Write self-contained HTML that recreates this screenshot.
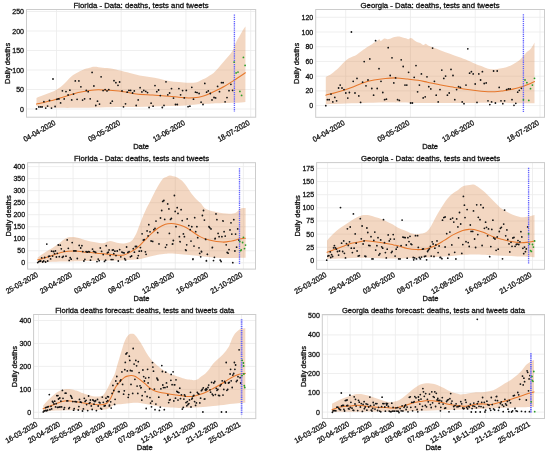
<!DOCTYPE html>
<html><head><meta charset="utf-8"><style>
html,body{margin:0;padding:0;background:#fff;width:550px;height:455px;overflow:hidden}
svg{display:block}
text{font-family:"Liberation Sans", sans-serif;fill:#161616;stroke:#161616;stroke-width:0.3px;font-weight:normal}
</style></head><body>
<svg width="550" height="455" viewBox="0 0 550 455">
<path d="M26.5 109H255.7M26.5 89.5H255.7M26.5 70H255.7M26.5 50.5H255.7M26.5 31H255.7M26.5 11.5H255.7M56.5 9.5V117.2M121.23 9.5V117.2M185.96 9.5V117.2M250.69 9.5V117.2" stroke="#ebebeb" stroke-width="0.8" fill="none"/>
<path d="M36.5 97.9C37.72 97.43 41.48 95.98 43.8 95.1C46.12 94.22 48.22 93.55 50.4 92.6C52.58 91.65 55 90.48 56.9 89.4C58.8 88.32 60.17 87.47 61.8 86.1C63.43 84.73 65.07 82.83 66.7 81.2C68.33 79.57 69.95 77.67 71.6 76.3C73.25 74.93 74.68 74.1 76.6 73C78.52 71.9 80.93 70.57 83.1 69.7C85.27 68.83 87.68 68.28 89.6 67.8C91.52 67.32 92.42 66.8 94.6 66.8C96.78 66.8 99.98 67.53 102.7 67.8C105.42 68.07 108.72 68.13 110.9 68.4C113.08 68.67 114.28 69.05 115.8 69.4C117.32 69.75 117.67 69.9 120 70.5C122.33 71.1 126.53 72.17 129.8 73C133.07 73.83 136.32 74.82 139.6 75.5C142.88 76.18 146.22 76.57 149.5 77.1C152.78 77.63 156.03 78.07 159.3 78.7C162.57 79.33 165.83 80.35 169.1 80.9C172.37 81.45 175.63 81.68 178.9 82C182.17 82.32 185.7 82.77 188.7 82.8C191.7 82.83 194.85 82.63 196.9 82.2C198.95 81.77 199.65 80.8 201 80.2C202.35 79.6 203.62 79.35 205 78.6C206.38 77.85 207.87 76.65 209.3 75.7C210.73 74.75 212.17 74.08 213.6 72.9C215.03 71.72 216.48 70.15 217.9 68.6C219.32 67.05 220.68 65.27 222.1 63.6C223.52 61.93 224.97 60.27 226.4 58.6C227.83 56.93 229.5 55.27 230.7 53.6C231.9 51.93 232.65 50.63 233.6 48.6C234.55 46.57 235.45 43.43 236.4 41.4C237.35 39.37 238.35 38.07 239.3 36.4C240.25 34.73 241.27 32.82 242.1 31.4C242.93 29.98 243.73 28.73 244.3 27.9C244.87 27.07 245.3 26.65 245.5 26.4L245.4 101.9C243.48 102.05 239.3 102.53 233.9 102.8C228.5 103.07 218.35 103.28 213 103.5C207.65 103.72 206.38 103.78 201.8 104.1C197.22 104.42 190.95 105.07 185.5 105.4C180.05 105.73 174.57 105.9 169.1 106.1C163.63 106.3 158.15 106.45 152.7 106.6C147.25 106.75 141.85 106.93 136.4 107C130.95 107.07 129.4 106.87 120 107C110.6 107.13 90.7 107.67 80 107.8C69.3 107.93 61.63 107.88 55.8 107.8C49.97 107.72 48.22 107.57 45 107.3C41.78 107.03 37.92 106.38 36.5 106.2Z" fill="#dd8d51" fill-opacity="0.35"/>
<path d="M36.5 104.1C38.82 103.55 45.37 102.17 50.4 100.8C55.43 99.43 62.07 97.27 66.7 95.9C71.33 94.53 74.65 93.47 78.2 92.6C81.75 91.73 85.27 91.15 88 90.7C90.73 90.25 92.15 90.03 94.6 89.9C97.05 89.77 99.17 89.77 102.7 89.9C106.23 90.03 112.25 90.38 115.8 90.7C119.35 91.02 120.57 91.25 124 91.8C127.43 92.35 131.62 93.45 136.4 94C141.18 94.55 147.25 94.73 152.7 95.1C158.15 95.47 164.73 95.85 169.1 96.2C173.47 96.55 175.63 96.92 178.9 97.2C182.17 97.48 185.42 97.9 188.7 97.9C191.98 97.9 195.88 97.58 198.6 97.2C201.32 96.82 202.58 96.47 205 95.6C207.42 94.73 209.83 93.57 213.1 92C216.37 90.43 221.13 88.13 224.6 86.2C228.07 84.27 230.43 82.63 233.9 80.4C237.37 78.17 243.48 74.07 245.4 72.8" stroke="#e6772b" stroke-width="1.05" fill="none" stroke-linecap="round"/>
<path d="M35.5 108.9a0.9 0.9 0 1 0 1.8 0a0.9 0.9 0 1 0 -1.8 0M37.9 106.9a0.9 0.9 0 1 0 1.8 0a0.9 0.9 0 1 0 -1.8 0M39.7 106.9a0.9 0.9 0 1 0 1.8 0a0.9 0.9 0 1 0 -1.8 0M41.3 106.9a0.9 0.9 0 1 0 1.8 0a0.9 0.9 0 1 0 -1.8 0M43 101.7a0.9 0.9 0 1 0 1.8 0a0.9 0.9 0 1 0 -1.8 0M44.8 108.1a0.9 0.9 0 1 0 1.8 0a0.9 0.9 0 1 0 -1.8 0M46.7 106.1a0.9 0.9 0 1 0 1.8 0a0.9 0.9 0 1 0 -1.8 0M48.6 100.5a0.9 0.9 0 1 0 1.8 0a0.9 0.9 0 1 0 -1.8 0M50.6 108.1a0.9 0.9 0 1 0 1.8 0a0.9 0.9 0 1 0 -1.8 0M52.1 79a0.9 0.9 0 1 0 1.8 0a0.9 0.9 0 1 0 -1.8 0M54.2 106.5a0.9 0.9 0 1 0 1.8 0a0.9 0.9 0 1 0 -1.8 0M56 99.3a0.9 0.9 0 1 0 1.8 0a0.9 0.9 0 1 0 -1.8 0M57.3 98.9a0.9 0.9 0 1 0 1.8 0a0.9 0.9 0 1 0 -1.8 0M58.1 98.9a0.9 0.9 0 1 0 1.8 0a0.9 0.9 0 1 0 -1.8 0M59.7 102.9a0.9 0.9 0 1 0 1.8 0a0.9 0.9 0 1 0 -1.8 0M61.5 90.8a0.9 0.9 0 1 0 1.8 0a0.9 0.9 0 1 0 -1.8 0M63.3 98.9a0.9 0.9 0 1 0 1.8 0a0.9 0.9 0 1 0 -1.8 0M65.1 91.6a0.9 0.9 0 1 0 1.8 0a0.9 0.9 0 1 0 -1.8 0M67.2 95a0.9 0.9 0 1 0 1.8 0a0.9 0.9 0 1 0 -1.8 0M69 90.2a0.9 0.9 0 1 0 1.8 0a0.9 0.9 0 1 0 -1.8 0M70.8 99.9a0.9 0.9 0 1 0 1.8 0a0.9 0.9 0 1 0 -1.8 0M72.6 94.1a0.9 0.9 0 1 0 1.8 0a0.9 0.9 0 1 0 -1.8 0M74.4 80.9a0.9 0.9 0 1 0 1.8 0a0.9 0.9 0 1 0 -1.8 0M76.2 99.3a0.9 0.9 0 1 0 1.8 0a0.9 0.9 0 1 0 -1.8 0M78 80.9a0.9 0.9 0 1 0 1.8 0a0.9 0.9 0 1 0 -1.8 0M80 86.8a0.9 0.9 0 1 0 1.8 0a0.9 0.9 0 1 0 -1.8 0M81.7 100.1a0.9 0.9 0 1 0 1.8 0a0.9 0.9 0 1 0 -1.8 0M83.7 98.8a0.9 0.9 0 1 0 1.8 0a0.9 0.9 0 1 0 -1.8 0M85.4 90.4a0.9 0.9 0 1 0 1.8 0a0.9 0.9 0 1 0 -1.8 0M87.3 91.7a0.9 0.9 0 1 0 1.8 0a0.9 0.9 0 1 0 -1.8 0M89.3 98.8a0.9 0.9 0 1 0 1.8 0a0.9 0.9 0 1 0 -1.8 0M91.2 72.4a0.9 0.9 0 1 0 1.8 0a0.9 0.9 0 1 0 -1.8 0M93 86a0.9 0.9 0 1 0 1.8 0a0.9 0.9 0 1 0 -1.8 0M94.9 105.5a0.9 0.9 0 1 0 1.8 0a0.9 0.9 0 1 0 -1.8 0M96.6 101.2a0.9 0.9 0 1 0 1.8 0a0.9 0.9 0 1 0 -1.8 0M98.6 104.1a0.9 0.9 0 1 0 1.8 0a0.9 0.9 0 1 0 -1.8 0M100.2 76.8a0.9 0.9 0 1 0 1.8 0a0.9 0.9 0 1 0 -1.8 0M102.2 90.6a0.9 0.9 0 1 0 1.8 0a0.9 0.9 0 1 0 -1.8 0M104.2 89.6a0.9 0.9 0 1 0 1.8 0a0.9 0.9 0 1 0 -1.8 0M106.1 90.9a0.9 0.9 0 1 0 1.8 0a0.9 0.9 0 1 0 -1.8 0M107.9 89.6a0.9 0.9 0 1 0 1.8 0a0.9 0.9 0 1 0 -1.8 0M109.7 103.2a0.9 0.9 0 1 0 1.8 0a0.9 0.9 0 1 0 -1.8 0M111.4 101.2a0.9 0.9 0 1 0 1.8 0a0.9 0.9 0 1 0 -1.8 0M113.1 80.7a0.9 0.9 0 1 0 1.8 0a0.9 0.9 0 1 0 -1.8 0M115 82.7a0.9 0.9 0 1 0 1.8 0a0.9 0.9 0 1 0 -1.8 0M117.1 85.3a0.9 0.9 0 1 0 1.8 0a0.9 0.9 0 1 0 -1.8 0M118.7 82a0.9 0.9 0 1 0 1.8 0a0.9 0.9 0 1 0 -1.8 0M121.1 90.9a0.9 0.9 0 1 0 1.8 0a0.9 0.9 0 1 0 -1.8 0M122.6 106.8a0.9 0.9 0 1 0 1.8 0a0.9 0.9 0 1 0 -1.8 0M124.6 103.8a0.9 0.9 0 1 0 1.8 0a0.9 0.9 0 1 0 -1.8 0M126.3 92.2a0.9 0.9 0 1 0 1.8 0a0.9 0.9 0 1 0 -1.8 0M128 90.4a0.9 0.9 0 1 0 1.8 0a0.9 0.9 0 1 0 -1.8 0M129.7 90.4a0.9 0.9 0 1 0 1.8 0a0.9 0.9 0 1 0 -1.8 0M131.7 93a0.9 0.9 0 1 0 1.8 0a0.9 0.9 0 1 0 -1.8 0M133.4 90.9a0.9 0.9 0 1 0 1.8 0a0.9 0.9 0 1 0 -1.8 0M135.3 105.5a0.9 0.9 0 1 0 1.8 0a0.9 0.9 0 1 0 -1.8 0M137.3 99.9a0.9 0.9 0 1 0 1.8 0a0.9 0.9 0 1 0 -1.8 0M139.2 87.7a0.9 0.9 0 1 0 1.8 0a0.9 0.9 0 1 0 -1.8 0M141 91.9a0.9 0.9 0 1 0 1.8 0a0.9 0.9 0 1 0 -1.8 0M142.9 90.4a0.9 0.9 0 1 0 1.8 0a0.9 0.9 0 1 0 -1.8 0M144.9 91.3a0.9 0.9 0 1 0 1.8 0a0.9 0.9 0 1 0 -1.8 0M146.6 92.6a0.9 0.9 0 1 0 1.8 0a0.9 0.9 0 1 0 -1.8 0M148.2 107.5a0.9 0.9 0 1 0 1.8 0a0.9 0.9 0 1 0 -1.8 0M150.2 103.2a0.9 0.9 0 1 0 1.8 0a0.9 0.9 0 1 0 -1.8 0M152.2 106.2a0.9 0.9 0 1 0 1.8 0a0.9 0.9 0 1 0 -1.8 0M154.1 85.6a0.9 0.9 0 1 0 1.8 0a0.9 0.9 0 1 0 -1.8 0M155.9 91.7a0.9 0.9 0 1 0 1.8 0a0.9 0.9 0 1 0 -1.8 0M157.7 90a0.9 0.9 0 1 0 1.8 0a0.9 0.9 0 1 0 -1.8 0M159.4 95.6a0.9 0.9 0 1 0 1.8 0a0.9 0.9 0 1 0 -1.8 0M161.4 107.5a0.9 0.9 0 1 0 1.8 0a0.9 0.9 0 1 0 -1.8 0M163.1 105.4a0.9 0.9 0 1 0 1.8 0a0.9 0.9 0 1 0 -1.8 0M165.1 81.8a0.9 0.9 0 1 0 1.8 0a0.9 0.9 0 1 0 -1.8 0M166.9 94.8a0.9 0.9 0 1 0 1.8 0a0.9 0.9 0 1 0 -1.8 0M168.7 93a0.9 0.9 0 1 0 1.8 0a0.9 0.9 0 1 0 -1.8 0M170.6 88.6a0.9 0.9 0 1 0 1.8 0a0.9 0.9 0 1 0 -1.8 0M172.6 98.1a0.9 0.9 0 1 0 1.8 0a0.9 0.9 0 1 0 -1.8 0M174.6 104.5a0.9 0.9 0 1 0 1.8 0a0.9 0.9 0 1 0 -1.8 0M176.4 104.5a0.9 0.9 0 1 0 1.8 0a0.9 0.9 0 1 0 -1.8 0M178 88.6a0.9 0.9 0 1 0 1.8 0a0.9 0.9 0 1 0 -1.8 0M179.7 94.8a0.9 0.9 0 1 0 1.8 0a0.9 0.9 0 1 0 -1.8 0M181.7 90.6a0.9 0.9 0 1 0 1.8 0a0.9 0.9 0 1 0 -1.8 0M183.4 97.9a0.9 0.9 0 1 0 1.8 0a0.9 0.9 0 1 0 -1.8 0M185.4 90.4a0.9 0.9 0 1 0 1.8 0a0.9 0.9 0 1 0 -1.8 0M187.2 106.7a0.9 0.9 0 1 0 1.8 0a0.9 0.9 0 1 0 -1.8 0M189 106.2a0.9 0.9 0 1 0 1.8 0a0.9 0.9 0 1 0 -1.8 0M190.9 87.3a0.9 0.9 0 1 0 1.8 0a0.9 0.9 0 1 0 -1.8 0M192.6 99.2a0.9 0.9 0 1 0 1.8 0a0.9 0.9 0 1 0 -1.8 0M194.6 92.2a0.9 0.9 0 1 0 1.8 0a0.9 0.9 0 1 0 -1.8 0M196.2 92.6a0.9 0.9 0 1 0 1.8 0a0.9 0.9 0 1 0 -1.8 0M198.2 93.5a0.9 0.9 0 1 0 1.8 0a0.9 0.9 0 1 0 -1.8 0M200.2 102.2a0.9 0.9 0 1 0 1.8 0a0.9 0.9 0 1 0 -1.8 0M202.1 104.5a0.9 0.9 0 1 0 1.8 0a0.9 0.9 0 1 0 -1.8 0M203.9 83.4a0.9 0.9 0 1 0 1.8 0a0.9 0.9 0 1 0 -1.8 0M205.7 92.2a0.9 0.9 0 1 0 1.8 0a0.9 0.9 0 1 0 -1.8 0M207.4 90.9a0.9 0.9 0 1 0 1.8 0a0.9 0.9 0 1 0 -1.8 0M209.4 93.5a0.9 0.9 0 1 0 1.8 0a0.9 0.9 0 1 0 -1.8 0M211.1 99.9a0.9 0.9 0 1 0 1.8 0a0.9 0.9 0 1 0 -1.8 0M213.1 97.5a0.9 0.9 0 1 0 1.8 0a0.9 0.9 0 1 0 -1.8 0M214.7 97.9a0.9 0.9 0 1 0 1.8 0a0.9 0.9 0 1 0 -1.8 0M216.7 86.4a0.9 0.9 0 1 0 1.8 0a0.9 0.9 0 1 0 -1.8 0M218.6 91.7a0.9 0.9 0 1 0 1.8 0a0.9 0.9 0 1 0 -1.8 0M220.6 82.7a0.9 0.9 0 1 0 1.8 0a0.9 0.9 0 1 0 -1.8 0M222.3 82.7a0.9 0.9 0 1 0 1.8 0a0.9 0.9 0 1 0 -1.8 0M224.2 101.8a0.9 0.9 0 1 0 1.8 0a0.9 0.9 0 1 0 -1.8 0M226.1 97.6a0.9 0.9 0 1 0 1.8 0a0.9 0.9 0 1 0 -1.8 0M228.1 90.7a0.9 0.9 0 1 0 1.8 0a0.9 0.9 0 1 0 -1.8 0M230 84.3a0.9 0.9 0 1 0 1.8 0a0.9 0.9 0 1 0 -1.8 0M231.7 90.4a0.9 0.9 0 1 0 1.8 0a0.9 0.9 0 1 0 -1.8 0" fill="#151515"/>
<path d="M234.4 14.5V111.8" stroke="#6262ff" stroke-width="1.35" stroke-dasharray="1.3 0.85" fill="none"/>
<path d="M233.2 62.1a0.9 0.9 0 1 0 1.8 0a0.9 0.9 0 1 0 -1.8 0M235.2 72.9a0.9 0.9 0 1 0 1.8 0a0.9 0.9 0 1 0 -1.8 0M237.1 72.1a0.9 0.9 0 1 0 1.8 0a0.9 0.9 0 1 0 -1.8 0M239 91.4a0.9 0.9 0 1 0 1.8 0a0.9 0.9 0 1 0 -1.8 0M240.7 95.4a0.9 0.9 0 1 0 1.8 0a0.9 0.9 0 1 0 -1.8 0M242.5 57.4a0.9 0.9 0 1 0 1.8 0a0.9 0.9 0 1 0 -1.8 0M244.2 65.4a0.9 0.9 0 1 0 1.8 0a0.9 0.9 0 1 0 -1.8 0" fill="#2a9d2a"/>
<rect x="26.5" y="9.5" width="229.2" height="107.7" fill="none" stroke="#cccccc" stroke-width="1"/>
<path d="M315.7 105.6H544.5M315.7 90.88H544.5M315.7 76.17H544.5M315.7 61.45H544.5M315.7 46.74H544.5M315.7 32.02H544.5M315.7 17.3H544.5M345.7 9.5V117.3M410.47 9.5V117.3M475.24 9.5V117.3M540.01 9.5V117.3" stroke="#ebebeb" stroke-width="0.8" fill="none"/>
<path d="M325.8 77C326.27 76.77 327.58 76.2 328.6 75.6C329.62 75 330.8 74.22 331.9 73.4C333 72.58 334.1 71.62 335.2 70.7C336.3 69.78 337.4 68.92 338.5 67.9C339.6 66.88 340.7 65.7 341.8 64.6C342.9 63.5 344 62.3 345.1 61.3C346.2 60.3 347.3 59.33 348.4 58.6C349.5 57.87 350.6 57.37 351.7 56.9C352.8 56.43 353.9 56.35 355 55.8C356.1 55.25 357.2 54.42 358.3 53.6C359.4 52.78 360.5 51.72 361.6 50.9C362.7 50.08 363.8 49.43 364.9 48.7C366 47.97 367.02 47.23 368.2 46.5C369.38 45.77 371.03 44.95 372 44.3C372.97 43.65 373.25 43.08 374 42.6C374.75 42.12 375.62 41.97 376.5 41.4C377.38 40.83 378.57 39.27 379.3 39.2C380.03 39.13 380.08 41.1 380.9 41C381.72 40.9 383.12 38.9 384.2 38.6C385.28 38.3 386.32 39.2 387.4 39.2C388.48 39.2 389.78 38.88 390.7 38.6C391.62 38.32 391.98 37.8 392.9 37.5C393.82 37.2 395.12 36.97 396.2 36.8C397.28 36.63 398.32 36.38 399.4 36.5C400.48 36.62 401.6 37.2 402.7 37.5C403.8 37.8 405.08 38.02 406 38.3C406.92 38.58 407.38 39.23 408.2 39.2C409.02 39.17 410 38.02 410.9 38.1C411.8 38.18 412.6 39.07 413.6 39.7C414.6 40.33 415.8 41.35 416.9 41.9C418 42.45 419.12 42.48 420.2 43C421.28 43.52 422.5 44.88 423.4 45C424.3 45.12 424.87 43.67 425.6 43.7C426.33 43.73 426.75 44.65 427.8 45.2C428.85 45.75 429.72 46.13 431.9 47C434.08 47.87 437.9 49.28 440.9 50.4C443.9 51.52 446.92 52.58 449.9 53.7C452.88 54.82 455.82 55.98 458.8 57.1C461.78 58.22 465.18 59.35 467.8 60.4C470.42 61.45 472.25 62.45 474.5 63.4C476.75 64.35 479.05 65.22 481.3 66.1C483.55 66.98 485.77 68.15 488 68.7C490.23 69.25 492.7 69.43 494.7 69.4C496.7 69.37 498.07 68.87 500 68.5C501.93 68.13 504.18 67.87 506.3 67.2C508.42 66.53 510.58 65.6 512.7 64.5C514.82 63.4 517.3 61.92 519 60.6C520.7 59.28 521.72 57.92 522.9 56.6C524.08 55.28 524.9 53.88 526.1 52.7C527.3 51.52 529.05 50.57 530.1 49.5C531.15 48.43 531.67 47.48 532.4 46.3C533.13 45.12 534.15 43.05 534.5 42.4L534.5 103.3C531.38 103.3 521.55 103.38 515.8 103.3C510.05 103.22 509.5 102.85 500 102.8C490.5 102.75 473.13 102.97 458.8 103C444.47 103.03 426.25 103.07 414 103C401.75 102.93 393.83 102.6 385.3 102.6C376.77 102.6 370.28 102.82 362.8 103C355.32 103.18 346.57 103.5 340.4 103.7C334.23 103.9 328.23 104.12 325.8 104.2Z" fill="#dd8d51" fill-opacity="0.35"/>
<path d="M325.8 95.2C328.23 94.53 336.1 92.5 340.4 91.2C344.7 89.9 347.87 88.78 351.6 87.4C355.33 86.02 359.05 84.13 362.8 82.9C366.55 81.67 370.35 80.75 374.1 80C377.85 79.25 381.57 78.75 385.3 78.4C389.03 78.05 392.77 77.78 396.5 77.9C400.23 78.02 404.12 78.7 407.7 79.1C411.28 79.5 414.7 79.78 418 80.3C421.3 80.82 423.68 81.4 427.5 82.2C431.32 83 436.42 84.23 440.9 85.1C445.38 85.97 449.92 86.65 454.4 87.4C458.88 88.15 463.32 88.97 467.8 89.6C472.28 90.23 476.82 90.83 481.3 91.2C485.78 91.57 490.97 91.88 494.7 91.8C498.43 91.72 501.23 91.03 503.7 90.7C506.17 90.37 506.95 90.33 509.5 89.8C512.05 89.27 516.63 88.1 519 87.5C521.37 86.9 522.12 86.73 523.7 86.2C525.28 85.67 526.7 85.08 528.5 84.3C530.3 83.52 533.5 81.97 534.5 81.5" stroke="#e6772b" stroke-width="1.05" fill="none" stroke-linecap="round"/>
<path d="M324.9 105.7a0.9 0.9 0 1 0 1.8 0a0.9 0.9 0 1 0 -1.8 0M326.5 99.7a0.9 0.9 0 1 0 1.8 0a0.9 0.9 0 1 0 -1.8 0M328.3 99.7a0.9 0.9 0 1 0 1.8 0a0.9 0.9 0 1 0 -1.8 0M330.1 94.1a0.9 0.9 0 1 0 1.8 0a0.9 0.9 0 1 0 -1.8 0M331.9 101.9a0.9 0.9 0 1 0 1.8 0a0.9 0.9 0 1 0 -1.8 0M333.9 97.4a0.9 0.9 0 1 0 1.8 0a0.9 0.9 0 1 0 -1.8 0M335.7 100.8a0.9 0.9 0 1 0 1.8 0a0.9 0.9 0 1 0 -1.8 0M337.7 88a0.9 0.9 0 1 0 1.8 0a0.9 0.9 0 1 0 -1.8 0M339.3 85.1a0.9 0.9 0 1 0 1.8 0a0.9 0.9 0 1 0 -1.8 0M341.1 88a0.9 0.9 0 1 0 1.8 0a0.9 0.9 0 1 0 -1.8 0M343.1 89.6a0.9 0.9 0 1 0 1.8 0a0.9 0.9 0 1 0 -1.8 0M344.9 93a0.9 0.9 0 1 0 1.8 0a0.9 0.9 0 1 0 -1.8 0M346.9 98.1a0.9 0.9 0 1 0 1.8 0a0.9 0.9 0 1 0 -1.8 0M348.5 92.5a0.9 0.9 0 1 0 1.8 0a0.9 0.9 0 1 0 -1.8 0M350.5 32a0.9 0.9 0 1 0 1.8 0a0.9 0.9 0 1 0 -1.8 0M352.3 81.3a0.9 0.9 0 1 0 1.8 0a0.9 0.9 0 1 0 -1.8 0M354.1 93a0.9 0.9 0 1 0 1.8 0a0.9 0.9 0 1 0 -1.8 0M356.1 78.4a0.9 0.9 0 1 0 1.8 0a0.9 0.9 0 1 0 -1.8 0M357.9 95.9a0.9 0.9 0 1 0 1.8 0a0.9 0.9 0 1 0 -1.8 0M359.7 102.4a0.9 0.9 0 1 0 1.8 0a0.9 0.9 0 1 0 -1.8 0M361.7 82.2a0.9 0.9 0 1 0 1.8 0a0.9 0.9 0 1 0 -1.8 0M363.3 61.6a0.9 0.9 0 1 0 1.8 0a0.9 0.9 0 1 0 -1.8 0M365.1 85.8a0.9 0.9 0 1 0 1.8 0a0.9 0.9 0 1 0 -1.8 0M367.1 80a0.9 0.9 0 1 0 1.8 0a0.9 0.9 0 1 0 -1.8 0M368.9 58.9a0.9 0.9 0 1 0 1.8 0a0.9 0.9 0 1 0 -1.8 0M370.9 88.5a0.9 0.9 0 1 0 1.8 0a0.9 0.9 0 1 0 -1.8 0M372.7 95.2a0.9 0.9 0 1 0 1.8 0a0.9 0.9 0 1 0 -1.8 0M374.7 40.7a0.9 0.9 0 1 0 1.8 0a0.9 0.9 0 1 0 -1.8 0M376.3 88.5a0.9 0.9 0 1 0 1.8 0a0.9 0.9 0 1 0 -1.8 0M378.1 68.7a0.9 0.9 0 1 0 1.8 0a0.9 0.9 0 1 0 -1.8 0M380.1 81.3a0.9 0.9 0 1 0 1.8 0a0.9 0.9 0 1 0 -1.8 0M381.9 92.5a0.9 0.9 0 1 0 1.8 0a0.9 0.9 0 1 0 -1.8 0M383.7 99.7a0.9 0.9 0 1 0 1.8 0a0.9 0.9 0 1 0 -1.8 0M385.5 99.2a0.9 0.9 0 1 0 1.8 0a0.9 0.9 0 1 0 -1.8 0M387.3 47.7a0.9 0.9 0 1 0 1.8 0a0.9 0.9 0 1 0 -1.8 0M389.3 75.5a0.9 0.9 0 1 0 1.8 0a0.9 0.9 0 1 0 -1.8 0M391.1 57.8a0.9 0.9 0 1 0 1.8 0a0.9 0.9 0 1 0 -1.8 0M392.9 82.9a0.9 0.9 0 1 0 1.8 0a0.9 0.9 0 1 0 -1.8 0M394.7 77.9a0.9 0.9 0 1 0 1.8 0a0.9 0.9 0 1 0 -1.8 0M396.7 99.7a0.9 0.9 0 1 0 1.8 0a0.9 0.9 0 1 0 -1.8 0M398.5 100.4a0.9 0.9 0 1 0 1.8 0a0.9 0.9 0 1 0 -1.8 0M400.3 59.8a0.9 0.9 0 1 0 1.8 0a0.9 0.9 0 1 0 -1.8 0M402.3 66.5a0.9 0.9 0 1 0 1.8 0a0.9 0.9 0 1 0 -1.8 0M404.1 85.1a0.9 0.9 0 1 0 1.8 0a0.9 0.9 0 1 0 -1.8 0M405.9 85.1a0.9 0.9 0 1 0 1.8 0a0.9 0.9 0 1 0 -1.8 0M407.7 72.3a0.9 0.9 0 1 0 1.8 0a0.9 0.9 0 1 0 -1.8 0M409.7 103a0.9 0.9 0 1 0 1.8 0a0.9 0.9 0 1 0 -1.8 0M411.5 103a0.9 0.9 0 1 0 1.8 0a0.9 0.9 0 1 0 -1.8 0M413.3 77.3a0.9 0.9 0 1 0 1.8 0a0.9 0.9 0 1 0 -1.8 0M415.1 65.6a0.9 0.9 0 1 0 1.8 0a0.9 0.9 0 1 0 -1.8 0M416.7 91.8a0.9 0.9 0 1 0 1.8 0a0.9 0.9 0 1 0 -1.8 0M418.5 85.1a0.9 0.9 0 1 0 1.8 0a0.9 0.9 0 1 0 -1.8 0M420.5 73.9a0.9 0.9 0 1 0 1.8 0a0.9 0.9 0 1 0 -1.8 0M422.3 97.9a0.9 0.9 0 1 0 1.8 0a0.9 0.9 0 1 0 -1.8 0M424.3 96.8a0.9 0.9 0 1 0 1.8 0a0.9 0.9 0 1 0 -1.8 0M426.1 76.8a0.9 0.9 0 1 0 1.8 0a0.9 0.9 0 1 0 -1.8 0M427.9 86.7a0.9 0.9 0 1 0 1.8 0a0.9 0.9 0 1 0 -1.8 0M429.9 88.9a0.9 0.9 0 1 0 1.8 0a0.9 0.9 0 1 0 -1.8 0M431.7 48.1a0.9 0.9 0 1 0 1.8 0a0.9 0.9 0 1 0 -1.8 0M433.5 81.3a0.9 0.9 0 1 0 1.8 0a0.9 0.9 0 1 0 -1.8 0M435.3 95.2a0.9 0.9 0 1 0 1.8 0a0.9 0.9 0 1 0 -1.8 0M437.3 101.9a0.9 0.9 0 1 0 1.8 0a0.9 0.9 0 1 0 -1.8 0M439.1 89.6a0.9 0.9 0 1 0 1.8 0a0.9 0.9 0 1 0 -1.8 0M440.9 70.1a0.9 0.9 0 1 0 1.8 0a0.9 0.9 0 1 0 -1.8 0M442.9 78.4a0.9 0.9 0 1 0 1.8 0a0.9 0.9 0 1 0 -1.8 0M444.7 76.1a0.9 0.9 0 1 0 1.8 0a0.9 0.9 0 1 0 -1.8 0M446.5 95.2a0.9 0.9 0 1 0 1.8 0a0.9 0.9 0 1 0 -1.8 0M448.3 93a0.9 0.9 0 1 0 1.8 0a0.9 0.9 0 1 0 -1.8 0M450.1 69.4a0.9 0.9 0 1 0 1.8 0a0.9 0.9 0 1 0 -1.8 0M452.1 75.5a0.9 0.9 0 1 0 1.8 0a0.9 0.9 0 1 0 -1.8 0M453.9 99.7a0.9 0.9 0 1 0 1.8 0a0.9 0.9 0 1 0 -1.8 0M455.7 89.6a0.9 0.9 0 1 0 1.8 0a0.9 0.9 0 1 0 -1.8 0M457.7 86.7a0.9 0.9 0 1 0 1.8 0a0.9 0.9 0 1 0 -1.8 0M459.5 87.4a0.9 0.9 0 1 0 1.8 0a0.9 0.9 0 1 0 -1.8 0M461.3 101.9a0.9 0.9 0 1 0 1.8 0a0.9 0.9 0 1 0 -1.8 0M463.1 103.7a0.9 0.9 0 1 0 1.8 0a0.9 0.9 0 1 0 -1.8 0M465.1 85.1a0.9 0.9 0 1 0 1.8 0a0.9 0.9 0 1 0 -1.8 0M466.9 48.8a0.9 0.9 0 1 0 1.8 0a0.9 0.9 0 1 0 -1.8 0M468.7 73.2a0.9 0.9 0 1 0 1.8 0a0.9 0.9 0 1 0 -1.8 0M470.5 71.7a0.9 0.9 0 1 0 1.8 0a0.9 0.9 0 1 0 -1.8 0M472.3 73.9a0.9 0.9 0 1 0 1.8 0a0.9 0.9 0 1 0 -1.8 0M474.3 84a0.9 0.9 0 1 0 1.8 0a0.9 0.9 0 1 0 -1.8 0M476.1 102.4a0.9 0.9 0 1 0 1.8 0a0.9 0.9 0 1 0 -1.8 0M477.9 73.9a0.9 0.9 0 1 0 1.8 0a0.9 0.9 0 1 0 -1.8 0M479.7 80a0.9 0.9 0 1 0 1.8 0a0.9 0.9 0 1 0 -1.8 0M481.5 71.7a0.9 0.9 0 1 0 1.8 0a0.9 0.9 0 1 0 -1.8 0M483.3 83.5a0.9 0.9 0 1 0 1.8 0a0.9 0.9 0 1 0 -1.8 0M485.3 82.9a0.9 0.9 0 1 0 1.8 0a0.9 0.9 0 1 0 -1.8 0M487.1 100.8a0.9 0.9 0 1 0 1.8 0a0.9 0.9 0 1 0 -1.8 0M488.9 104.6a0.9 0.9 0 1 0 1.8 0a0.9 0.9 0 1 0 -1.8 0M490.7 101.9a0.9 0.9 0 1 0 1.8 0a0.9 0.9 0 1 0 -1.8 0M492.7 71a0.9 0.9 0 1 0 1.8 0a0.9 0.9 0 1 0 -1.8 0M494.5 103a0.9 0.9 0 1 0 1.8 0a0.9 0.9 0 1 0 -1.8 0M496.3 71a0.9 0.9 0 1 0 1.8 0a0.9 0.9 0 1 0 -1.8 0M498.3 87.4a0.9 0.9 0 1 0 1.8 0a0.9 0.9 0 1 0 -1.8 0M500.1 100.8a0.9 0.9 0 1 0 1.8 0a0.9 0.9 0 1 0 -1.8 0M501.9 103.7a0.9 0.9 0 1 0 1.8 0a0.9 0.9 0 1 0 -1.8 0M503.7 100.8a0.9 0.9 0 1 0 1.8 0a0.9 0.9 0 1 0 -1.8 0M505.7 89.6a0.9 0.9 0 1 0 1.8 0a0.9 0.9 0 1 0 -1.8 0M507.5 88.9a0.9 0.9 0 1 0 1.8 0a0.9 0.9 0 1 0 -1.8 0M509.3 88.9a0.9 0.9 0 1 0 1.8 0a0.9 0.9 0 1 0 -1.8 0M511.1 99.7a0.9 0.9 0 1 0 1.8 0a0.9 0.9 0 1 0 -1.8 0M513.1 105.3a0.9 0.9 0 1 0 1.8 0a0.9 0.9 0 1 0 -1.8 0M514.9 103.3a0.9 0.9 0 1 0 1.8 0a0.9 0.9 0 1 0 -1.8 0M516.8 92.2a0.9 0.9 0 1 0 1.8 0a0.9 0.9 0 1 0 -1.8 0M518.4 90.3a0.9 0.9 0 1 0 1.8 0a0.9 0.9 0 1 0 -1.8 0M520.5 88.3a0.9 0.9 0 1 0 1.8 0a0.9 0.9 0 1 0 -1.8 0" fill="#151515"/>
<path d="M523.4 14.3V112.1" stroke="#6262ff" stroke-width="1.35" stroke-dasharray="1.3 0.85" fill="none"/>
<path d="M522.5 99.8a0.9 0.9 0 1 0 1.8 0a0.9 0.9 0 1 0 -1.8 0M524.1 79.9a0.9 0.9 0 1 0 1.8 0a0.9 0.9 0 1 0 -1.8 0M526 82.7a0.9 0.9 0 1 0 1.8 0a0.9 0.9 0 1 0 -1.8 0M527.9 100.4a0.9 0.9 0 1 0 1.8 0a0.9 0.9 0 1 0 -1.8 0M529.6 88.7a0.9 0.9 0 1 0 1.8 0a0.9 0.9 0 1 0 -1.8 0M531.5 85.1a0.9 0.9 0 1 0 1.8 0a0.9 0.9 0 1 0 -1.8 0M533.6 78.3a0.9 0.9 0 1 0 1.8 0a0.9 0.9 0 1 0 -1.8 0" fill="#2a9d2a"/>
<rect x="315.7" y="9.5" width="228.8" height="107.8" fill="none" stroke="#cccccc" stroke-width="1"/>
<path d="M27.6 262.8H255.5M27.6 250.78H255.5M27.6 238.75H255.5M27.6 226.73H255.5M27.6 214.7H255.5M27.6 202.68H255.5M27.6 190.65H255.5M27.6 178.62H255.5M27.6 166.6H255.5M39 162.7V269.1M73.07 162.7V269.1M107.14 162.7V269.1M141.21 162.7V269.1M175.28 162.7V269.1M209.35 162.7V269.1M243.42 162.7V269.1" stroke="#ebebeb" stroke-width="0.8" fill="none"/>
<path d="M37.7 257.5C38.58 256.88 41.12 255.03 43 253.8C44.88 252.57 47.02 251.35 49 250.1C50.98 248.85 52.92 247.67 54.9 246.3C56.88 244.93 59.15 243.18 60.9 241.9C62.65 240.62 63.9 239.4 65.4 238.6C66.9 237.8 68.4 237.35 69.9 237.1C71.4 236.85 72.92 236.93 74.4 237.1C75.88 237.27 77.07 237.6 78.8 238.1C80.53 238.6 82.8 239.52 84.8 240.1C86.8 240.68 88.8 241.18 90.8 241.6C92.8 242.02 94.8 242.32 96.8 242.6C98.8 242.88 100.6 243.58 102.8 243.3C105 243.02 107.65 241 110 240.9C112.35 240.8 114.58 242.28 116.9 242.7C119.22 243.12 121.58 243.6 123.9 243.4C126.22 243.2 129.05 242.57 130.8 241.5C132.55 240.43 133.45 238.42 134.4 237C135.35 235.58 135.77 234.68 136.5 233C137.23 231.32 138 228.98 138.8 226.9C139.6 224.82 140.48 222.55 141.3 220.5C142.12 218.45 142.83 216.65 143.7 214.6C144.57 212.55 145.52 210.2 146.5 208.2C147.48 206.2 148.6 204.55 149.6 202.6C150.6 200.65 151.52 198.52 152.5 196.5C153.48 194.48 154.58 192.25 155.5 190.5C156.42 188.75 157.17 187.42 158 186C158.83 184.58 159.65 183.27 160.5 182C161.35 180.73 162.12 179.23 163.1 178.4C164.08 177.57 165.3 177.48 166.4 177C167.5 176.52 168.6 175.63 169.7 175.5C170.8 175.37 171.9 175.95 173 176.2C174.1 176.45 175.3 176.57 176.3 177C177.3 177.43 178.08 178.2 179 178.8C179.92 179.4 180.78 179.68 181.8 180.6C182.82 181.52 184 182.92 185.1 184.3C186.2 185.68 187.32 187.32 188.4 188.9C189.48 190.48 190.52 192.33 191.6 193.8C192.68 195.27 193.8 196.5 194.9 197.7C196 198.9 197.18 200.03 198.2 201C199.22 201.97 199.95 202.33 201 203.5C202.05 204.67 203.15 206.87 204.5 208C205.85 209.13 207.18 209.63 209.1 210.3C211.02 210.97 213.68 211.5 216 212C218.32 212.5 220.68 213 223 213.3C225.32 213.6 227.78 213.9 229.9 213.8C232.02 213.7 233.97 213.55 235.7 212.7C237.43 211.85 238.65 209.48 240.3 208.7C241.95 207.92 244.72 208.12 245.6 208L245.6 257.8C243 257.83 235.33 258.07 230 258C224.67 257.93 218.15 257.67 213.6 257.4C209.05 257.13 206.33 256.75 202.7 256.4C199.07 256.05 195.43 255.67 191.8 255.3C188.17 254.93 184.53 254.48 180.9 254.2C177.27 253.92 172.88 253.62 170 253.6C167.12 253.58 166.18 253.8 163.6 254.1C161.02 254.4 157.52 254.8 154.5 255.4C151.48 256 148.52 257.02 145.5 257.7C142.48 258.38 140.95 259.03 136.4 259.5C131.85 259.97 124.27 260.33 118.2 260.5C112.13 260.67 106.57 260.37 100 260.5C93.43 260.63 84.82 261.12 78.8 261.3C72.78 261.48 68.87 261.48 63.9 261.6C58.93 261.72 53.37 261.8 49 262C44.63 262.2 39.58 262.67 37.7 262.8Z" fill="#dd8d51" fill-opacity="0.35"/>
<path d="M37.7 259.8C39.08 259.42 43.38 258.3 46 257.5C48.62 256.7 50.92 255.82 53.4 255C55.88 254.18 58.4 253.22 60.9 252.6C63.4 251.98 65.9 251.55 68.4 251.3C70.9 251.05 73.42 250.98 75.9 251.1C78.38 251.22 80.82 251.75 83.3 252C85.78 252.25 88.3 252.37 90.8 252.6C93.3 252.83 95.82 253.15 98.3 253.4C100.78 253.65 103.75 253.97 105.7 254.1C107.65 254.23 108.13 254.02 110 254.2C111.87 254.38 114.58 255.08 116.9 255.2C119.22 255.32 121.58 255.45 123.9 254.9C126.22 254.35 128.5 253.17 130.8 251.9C133.1 250.63 135.4 249.22 137.7 247.3C140 245.38 142.28 242.72 144.6 240.4C146.92 238.08 149.28 235.52 151.6 233.4C153.92 231.28 156.2 229.23 158.5 227.7C160.8 226.17 163.28 224.9 165.4 224.2C167.52 223.5 169.27 223.5 171.2 223.5C173.13 223.5 174.88 223.7 177 224.2C179.12 224.7 181.72 225.53 183.9 226.5C186.08 227.47 187.42 228.32 190.1 230C192.78 231.68 196.83 234.93 200 236.6C203.17 238.27 205.32 239.08 209.1 240C212.88 240.92 218.92 241.95 222.7 242.1C226.48 242.25 229.07 241.4 231.8 240.9C234.53 240.4 236.82 239.55 239.1 239.1C241.38 238.65 244.43 238.35 245.5 238.2" stroke="#e6772b" stroke-width="1.05" fill="none" stroke-linecap="round"/>
<path d="M36.8 262.6a0.9 0.9 0 1 0 1.8 0a0.9 0.9 0 1 0 -1.8 0M37.9 261.6a0.9 0.9 0 1 0 1.8 0a0.9 0.9 0 1 0 -1.8 0M38.9 261.2a0.9 0.9 0 1 0 1.8 0a0.9 0.9 0 1 0 -1.8 0M39.8 261a0.9 0.9 0 1 0 1.8 0a0.9 0.9 0 1 0 -1.8 0M40.8 257.8a0.9 0.9 0 1 0 1.8 0a0.9 0.9 0 1 0 -1.8 0M41.8 262a0.9 0.9 0 1 0 1.8 0a0.9 0.9 0 1 0 -1.8 0M42.8 261a0.9 0.9 0 1 0 1.8 0a0.9 0.9 0 1 0 -1.8 0M43.8 257.5a0.9 0.9 0 1 0 1.8 0a0.9 0.9 0 1 0 -1.8 0M44.7 262a0.9 0.9 0 1 0 1.8 0a0.9 0.9 0 1 0 -1.8 0M45.9 244.1a0.9 0.9 0 1 0 1.8 0a0.9 0.9 0 1 0 -1.8 0M46.8 261a0.9 0.9 0 1 0 1.8 0a0.9 0.9 0 1 0 -1.8 0M47.7 256.5a0.9 0.9 0 1 0 1.8 0a0.9 0.9 0 1 0 -1.8 0M48.7 256.2a0.9 0.9 0 1 0 1.8 0a0.9 0.9 0 1 0 -1.8 0M49.7 258.9a0.9 0.9 0 1 0 1.8 0a0.9 0.9 0 1 0 -1.8 0M50.7 251.2a0.9 0.9 0 1 0 1.8 0a0.9 0.9 0 1 0 -1.8 0M51.7 256.1a0.9 0.9 0 1 0 1.8 0a0.9 0.9 0 1 0 -1.8 0M52.6 251.5a0.9 0.9 0 1 0 1.8 0a0.9 0.9 0 1 0 -1.8 0M53.7 253.7a0.9 0.9 0 1 0 1.8 0a0.9 0.9 0 1 0 -1.8 0M54.5 250.9a0.9 0.9 0 1 0 1.8 0a0.9 0.9 0 1 0 -1.8 0M55.5 257a0.9 0.9 0 1 0 1.8 0a0.9 0.9 0 1 0 -1.8 0M56.4 253.3a0.9 0.9 0 1 0 1.8 0a0.9 0.9 0 1 0 -1.8 0M57.4 245a0.9 0.9 0 1 0 1.8 0a0.9 0.9 0 1 0 -1.8 0M58.4 256.7a0.9 0.9 0 1 0 1.8 0a0.9 0.9 0 1 0 -1.8 0M59.4 245.2a0.9 0.9 0 1 0 1.8 0a0.9 0.9 0 1 0 -1.8 0M60.4 248.8a0.9 0.9 0 1 0 1.8 0a0.9 0.9 0 1 0 -1.8 0M61.4 257.3a0.9 0.9 0 1 0 1.8 0a0.9 0.9 0 1 0 -1.8 0M62.4 256.5a0.9 0.9 0 1 0 1.8 0a0.9 0.9 0 1 0 -1.8 0M63.4 251.2a0.9 0.9 0 1 0 1.8 0a0.9 0.9 0 1 0 -1.8 0M65.1 256.2a0.9 0.9 0 1 0 1.8 0a0.9 0.9 0 1 0 -1.8 0M66.3 239.9a0.9 0.9 0 1 0 1.8 0a0.9 0.9 0 1 0 -1.8 0M67.4 248.3a0.9 0.9 0 1 0 1.8 0a0.9 0.9 0 1 0 -1.8 0M68.3 260.4a0.9 0.9 0 1 0 1.8 0a0.9 0.9 0 1 0 -1.8 0M69.3 257.7a0.9 0.9 0 1 0 1.8 0a0.9 0.9 0 1 0 -1.8 0M70.3 259.2a0.9 0.9 0 1 0 1.8 0a0.9 0.9 0 1 0 -1.8 0M71.3 242.6a0.9 0.9 0 1 0 1.8 0a0.9 0.9 0 1 0 -1.8 0M72.9 250.9a0.9 0.9 0 1 0 1.8 0a0.9 0.9 0 1 0 -1.8 0M74 250.9a0.9 0.9 0 1 0 1.8 0a0.9 0.9 0 1 0 -1.8 0M75 250.9a0.9 0.9 0 1 0 1.8 0a0.9 0.9 0 1 0 -1.8 0M76.4 258.5a0.9 0.9 0 1 0 1.8 0a0.9 0.9 0 1 0 -1.8 0M78.3 245.4a0.9 0.9 0 1 0 1.8 0a0.9 0.9 0 1 0 -1.8 0M79.8 248a0.9 0.9 0 1 0 1.8 0a0.9 0.9 0 1 0 -1.8 0M81 245.7a0.9 0.9 0 1 0 1.8 0a0.9 0.9 0 1 0 -1.8 0M81.9 251.6a0.9 0.9 0 1 0 1.8 0a0.9 0.9 0 1 0 -1.8 0M83 261a0.9 0.9 0 1 0 1.8 0a0.9 0.9 0 1 0 -1.8 0M84 259.3a0.9 0.9 0 1 0 1.8 0a0.9 0.9 0 1 0 -1.8 0M85.2 251.6a0.9 0.9 0 1 0 1.8 0a0.9 0.9 0 1 0 -1.8 0M86.3 252.2a0.9 0.9 0 1 0 1.8 0a0.9 0.9 0 1 0 -1.8 0M87.5 251.6a0.9 0.9 0 1 0 1.8 0a0.9 0.9 0 1 0 -1.8 0M88.6 251.8a0.9 0.9 0 1 0 1.8 0a0.9 0.9 0 1 0 -1.8 0M89.6 260.2a0.9 0.9 0 1 0 1.8 0a0.9 0.9 0 1 0 -1.8 0M90.6 256.8a0.9 0.9 0 1 0 1.8 0a0.9 0.9 0 1 0 -1.8 0M91.6 249.1a0.9 0.9 0 1 0 1.8 0a0.9 0.9 0 1 0 -1.8 0M92.7 251.4a0.9 0.9 0 1 0 1.8 0a0.9 0.9 0 1 0 -1.8 0M93.8 251.8a0.9 0.9 0 1 0 1.8 0a0.9 0.9 0 1 0 -1.8 0M94.8 252.4a0.9 0.9 0 1 0 1.8 0a0.9 0.9 0 1 0 -1.8 0M96.1 261.6a0.9 0.9 0 1 0 1.8 0a0.9 0.9 0 1 0 -1.8 0M97.3 259.1a0.9 0.9 0 1 0 1.8 0a0.9 0.9 0 1 0 -1.8 0M98.3 260.7a0.9 0.9 0 1 0 1.8 0a0.9 0.9 0 1 0 -1.8 0M99.4 248a0.9 0.9 0 1 0 1.8 0a0.9 0.9 0 1 0 -1.8 0M100.7 251.4a0.9 0.9 0 1 0 1.8 0a0.9 0.9 0 1 0 -1.8 0M102.3 254.6a0.9 0.9 0 1 0 1.8 0a0.9 0.9 0 1 0 -1.8 0M103.6 261.4a0.9 0.9 0 1 0 1.8 0a0.9 0.9 0 1 0 -1.8 0M104.7 260.2a0.9 0.9 0 1 0 1.8 0a0.9 0.9 0 1 0 -1.8 0M105.3 245.7a0.9 0.9 0 1 0 1.8 0a0.9 0.9 0 1 0 -1.8 0M106.5 252.9a0.9 0.9 0 1 0 1.8 0a0.9 0.9 0 1 0 -1.8 0M107.4 252.2a0.9 0.9 0 1 0 1.8 0a0.9 0.9 0 1 0 -1.8 0M108.2 249.9a0.9 0.9 0 1 0 1.8 0a0.9 0.9 0 1 0 -1.8 0M109.2 255.6a0.9 0.9 0 1 0 1.8 0a0.9 0.9 0 1 0 -1.8 0M110.3 259.6a0.9 0.9 0 1 0 1.8 0a0.9 0.9 0 1 0 -1.8 0M111.5 250.1a0.9 0.9 0 1 0 1.8 0a0.9 0.9 0 1 0 -1.8 0M112 259.6a0.9 0.9 0 1 0 1.8 0a0.9 0.9 0 1 0 -1.8 0M112.4 249.9a0.9 0.9 0 1 0 1.8 0a0.9 0.9 0 1 0 -1.8 0M112.9 253.7a0.9 0.9 0 1 0 1.8 0a0.9 0.9 0 1 0 -1.8 0M114 251.2a0.9 0.9 0 1 0 1.8 0a0.9 0.9 0 1 0 -1.8 0M115.1 255.6a0.9 0.9 0 1 0 1.8 0a0.9 0.9 0 1 0 -1.8 0M116.3 251a0.9 0.9 0 1 0 1.8 0a0.9 0.9 0 1 0 -1.8 0M117.4 261a0.9 0.9 0 1 0 1.8 0a0.9 0.9 0 1 0 -1.8 0M118.8 249.6a0.9 0.9 0 1 0 1.8 0a0.9 0.9 0 1 0 -1.8 0M119.9 256.8a0.9 0.9 0 1 0 1.8 0a0.9 0.9 0 1 0 -1.8 0M121 252.1a0.9 0.9 0 1 0 1.8 0a0.9 0.9 0 1 0 -1.8 0M122.1 252.6a0.9 0.9 0 1 0 1.8 0a0.9 0.9 0 1 0 -1.8 0M123.2 252.9a0.9 0.9 0 1 0 1.8 0a0.9 0.9 0 1 0 -1.8 0M123.8 258.7a0.9 0.9 0 1 0 1.8 0a0.9 0.9 0 1 0 -1.8 0M124.6 259.9a0.9 0.9 0 1 0 1.8 0a0.9 0.9 0 1 0 -1.8 0M125.7 247a0.9 0.9 0 1 0 1.8 0a0.9 0.9 0 1 0 -1.8 0M127 252.4a0.9 0.9 0 1 0 1.8 0a0.9 0.9 0 1 0 -1.8 0M128.2 251.6a0.9 0.9 0 1 0 1.8 0a0.9 0.9 0 1 0 -1.8 0M129.5 256.8a0.9 0.9 0 1 0 1.8 0a0.9 0.9 0 1 0 -1.8 0M130.7 256a0.9 0.9 0 1 0 1.8 0a0.9 0.9 0 1 0 -1.8 0M132.4 248.7a0.9 0.9 0 1 0 1.8 0a0.9 0.9 0 1 0 -1.8 0M133.5 252.2a0.9 0.9 0 1 0 1.8 0a0.9 0.9 0 1 0 -1.8 0M134.5 246.5a0.9 0.9 0 1 0 1.8 0a0.9 0.9 0 1 0 -1.8 0M135.7 246.5a0.9 0.9 0 1 0 1.8 0a0.9 0.9 0 1 0 -1.8 0M136.6 258.2a0.9 0.9 0 1 0 1.8 0a0.9 0.9 0 1 0 -1.8 0M137.4 255.6a0.9 0.9 0 1 0 1.8 0a0.9 0.9 0 1 0 -1.8 0M138.3 251.2a0.9 0.9 0 1 0 1.8 0a0.9 0.9 0 1 0 -1.8 0M139.5 247.6a0.9 0.9 0 1 0 1.8 0a0.9 0.9 0 1 0 -1.8 0M140.5 251a0.9 0.9 0 1 0 1.8 0a0.9 0.9 0 1 0 -1.8 0M141.2 233.8a0.9 0.9 0 1 0 1.8 0a0.9 0.9 0 1 0 -1.8 0M142.4 240.1a0.9 0.9 0 1 0 1.8 0a0.9 0.9 0 1 0 -1.8 0M143.3 239.7a0.9 0.9 0 1 0 1.8 0a0.9 0.9 0 1 0 -1.8 0M144.5 251.8a0.9 0.9 0 1 0 1.8 0a0.9 0.9 0 1 0 -1.8 0M145.2 254.3a0.9 0.9 0 1 0 1.8 0a0.9 0.9 0 1 0 -1.8 0M146.2 230.9a0.9 0.9 0 1 0 1.8 0a0.9 0.9 0 1 0 -1.8 0M147.2 235.9a0.9 0.9 0 1 0 1.8 0a0.9 0.9 0 1 0 -1.8 0M147.9 224.7a0.9 0.9 0 1 0 1.8 0a0.9 0.9 0 1 0 -1.8 0M149.1 231.8a0.9 0.9 0 1 0 1.8 0a0.9 0.9 0 1 0 -1.8 0M150.2 241a0.9 0.9 0 1 0 1.8 0a0.9 0.9 0 1 0 -1.8 0M151.8 241.4a0.9 0.9 0 1 0 1.8 0a0.9 0.9 0 1 0 -1.8 0M152.9 229.7a0.9 0.9 0 1 0 1.8 0a0.9 0.9 0 1 0 -1.8 0M154.1 228.4a0.9 0.9 0 1 0 1.8 0a0.9 0.9 0 1 0 -1.8 0M155.1 221.1a0.9 0.9 0 1 0 1.8 0a0.9 0.9 0 1 0 -1.8 0M156.8 232.7a0.9 0.9 0 1 0 1.8 0a0.9 0.9 0 1 0 -1.8 0M158.1 243.9a0.9 0.9 0 1 0 1.8 0a0.9 0.9 0 1 0 -1.8 0M159.6 218a0.9 0.9 0 1 0 1.8 0a0.9 0.9 0 1 0 -1.8 0M160.8 210.5a0.9 0.9 0 1 0 1.8 0a0.9 0.9 0 1 0 -1.8 0M161.8 201.4a0.9 0.9 0 1 0 1.8 0a0.9 0.9 0 1 0 -1.8 0M163 200.5a0.9 0.9 0 1 0 1.8 0a0.9 0.9 0 1 0 -1.8 0M163.8 219.4a0.9 0.9 0 1 0 1.8 0a0.9 0.9 0 1 0 -1.8 0M164.6 247.3a0.9 0.9 0 1 0 1.8 0a0.9 0.9 0 1 0 -1.8 0M165.8 244.8a0.9 0.9 0 1 0 1.8 0a0.9 0.9 0 1 0 -1.8 0M166.8 203.9a0.9 0.9 0 1 0 1.8 0a0.9 0.9 0 1 0 -1.8 0M168 208.9a0.9 0.9 0 1 0 1.8 0a0.9 0.9 0 1 0 -1.8 0M168.5 233.4a0.9 0.9 0 1 0 1.8 0a0.9 0.9 0 1 0 -1.8 0M169.6 219.4a0.9 0.9 0 1 0 1.8 0a0.9 0.9 0 1 0 -1.8 0M170.5 218.4a0.9 0.9 0 1 0 1.8 0a0.9 0.9 0 1 0 -1.8 0M171.8 243.9a0.9 0.9 0 1 0 1.8 0a0.9 0.9 0 1 0 -1.8 0M172.5 240.6a0.9 0.9 0 1 0 1.8 0a0.9 0.9 0 1 0 -1.8 0M173.5 195.5a0.9 0.9 0 1 0 1.8 0a0.9 0.9 0 1 0 -1.8 0M174.3 211.4a0.9 0.9 0 1 0 1.8 0a0.9 0.9 0 1 0 -1.8 0M175.1 226.7a0.9 0.9 0 1 0 1.8 0a0.9 0.9 0 1 0 -1.8 0M176.3 207.7a0.9 0.9 0 1 0 1.8 0a0.9 0.9 0 1 0 -1.8 0M177.1 213.4a0.9 0.9 0 1 0 1.8 0a0.9 0.9 0 1 0 -1.8 0M178.5 236.7a0.9 0.9 0 1 0 1.8 0a0.9 0.9 0 1 0 -1.8 0M179.2 241.8a0.9 0.9 0 1 0 1.8 0a0.9 0.9 0 1 0 -1.8 0M180.2 209.7a0.9 0.9 0 1 0 1.8 0a0.9 0.9 0 1 0 -1.8 0M181.3 220.6a0.9 0.9 0 1 0 1.8 0a0.9 0.9 0 1 0 -1.8 0M182.5 233.9a0.9 0.9 0 1 0 1.8 0a0.9 0.9 0 1 0 -1.8 0M183.5 236.7a0.9 0.9 0 1 0 1.8 0a0.9 0.9 0 1 0 -1.8 0M184.7 249.8a0.9 0.9 0 1 0 1.8 0a0.9 0.9 0 1 0 -1.8 0M185.8 244.8a0.9 0.9 0 1 0 1.8 0a0.9 0.9 0 1 0 -1.8 0M186.3 218.9a0.9 0.9 0 1 0 1.8 0a0.9 0.9 0 1 0 -1.8 0M172.4 240.5a0.9 0.9 0 1 0 1.8 0a0.9 0.9 0 1 0 -1.8 0M171.5 244.1a0.9 0.9 0 1 0 1.8 0a0.9 0.9 0 1 0 -1.8 0M179.1 241.6a0.9 0.9 0 1 0 1.8 0a0.9 0.9 0 1 0 -1.8 0M185.2 250.4a0.9 0.9 0 1 0 1.8 0a0.9 0.9 0 1 0 -1.8 0M192 259.4a0.9 0.9 0 1 0 1.8 0a0.9 0.9 0 1 0 -1.8 0M187.9 225.6a0.9 0.9 0 1 0 1.8 0a0.9 0.9 0 1 0 -1.8 0M189.3 229.7a0.9 0.9 0 1 0 1.8 0a0.9 0.9 0 1 0 -1.8 0M190.9 226.7a0.9 0.9 0 1 0 1.8 0a0.9 0.9 0 1 0 -1.8 0M190.1 241.1a0.9 0.9 0 1 0 1.8 0a0.9 0.9 0 1 0 -1.8 0M192.1 258.9a0.9 0.9 0 1 0 1.8 0a0.9 0.9 0 1 0 -1.8 0M193.1 246.1a0.9 0.9 0 1 0 1.8 0a0.9 0.9 0 1 0 -1.8 0M193.8 217.7a0.9 0.9 0 1 0 1.8 0a0.9 0.9 0 1 0 -1.8 0M194.8 231.7a0.9 0.9 0 1 0 1.8 0a0.9 0.9 0 1 0 -1.8 0M196 226.7a0.9 0.9 0 1 0 1.8 0a0.9 0.9 0 1 0 -1.8 0M196.8 237.7a0.9 0.9 0 1 0 1.8 0a0.9 0.9 0 1 0 -1.8 0M198.1 247.8a0.9 0.9 0 1 0 1.8 0a0.9 0.9 0 1 0 -1.8 0M198.8 253.4a0.9 0.9 0 1 0 1.8 0a0.9 0.9 0 1 0 -1.8 0M199.8 256.8a0.9 0.9 0 1 0 1.8 0a0.9 0.9 0 1 0 -1.8 0M200.5 251.4a0.9 0.9 0 1 0 1.8 0a0.9 0.9 0 1 0 -1.8 0M201.5 215.5a0.9 0.9 0 1 0 1.8 0a0.9 0.9 0 1 0 -1.8 0M202.6 210.5a0.9 0.9 0 1 0 1.8 0a0.9 0.9 0 1 0 -1.8 0M203.5 220.1a0.9 0.9 0 1 0 1.8 0a0.9 0.9 0 1 0 -1.8 0M204.8 239.4a0.9 0.9 0 1 0 1.8 0a0.9 0.9 0 1 0 -1.8 0M205.5 260.6a0.9 0.9 0 1 0 1.8 0a0.9 0.9 0 1 0 -1.8 0M206.5 254.4a0.9 0.9 0 1 0 1.8 0a0.9 0.9 0 1 0 -1.8 0M208.1 226.7a0.9 0.9 0 1 0 1.8 0a0.9 0.9 0 1 0 -1.8 0M208.8 227.7a0.9 0.9 0 1 0 1.8 0a0.9 0.9 0 1 0 -1.8 0M210.1 228.9a0.9 0.9 0 1 0 1.8 0a0.9 0.9 0 1 0 -1.8 0M211.5 247.3a0.9 0.9 0 1 0 1.8 0a0.9 0.9 0 1 0 -1.8 0M212.6 260.6a0.9 0.9 0 1 0 1.8 0a0.9 0.9 0 1 0 -1.8 0M213.5 257.3a0.9 0.9 0 1 0 1.8 0a0.9 0.9 0 1 0 -1.8 0M214.3 238.4a0.9 0.9 0 1 0 1.8 0a0.9 0.9 0 1 0 -1.8 0M215.1 213.9a0.9 0.9 0 1 0 1.8 0a0.9 0.9 0 1 0 -1.8 0M216 219.7a0.9 0.9 0 1 0 1.8 0a0.9 0.9 0 1 0 -1.8 0M217.2 233.4a0.9 0.9 0 1 0 1.8 0a0.9 0.9 0 1 0 -1.8 0M218.2 236.7a0.9 0.9 0 1 0 1.8 0a0.9 0.9 0 1 0 -1.8 0M219.3 260.1a0.9 0.9 0 1 0 1.8 0a0.9 0.9 0 1 0 -1.8 0M220.2 261.5a0.9 0.9 0 1 0 1.8 0a0.9 0.9 0 1 0 -1.8 0M221 236.7a0.9 0.9 0 1 0 1.8 0a0.9 0.9 0 1 0 -1.8 0M222.2 221.1a0.9 0.9 0 1 0 1.8 0a0.9 0.9 0 1 0 -1.8 0M223.2 231.7a0.9 0.9 0 1 0 1.8 0a0.9 0.9 0 1 0 -1.8 0M224.3 236.1a0.9 0.9 0 1 0 1.8 0a0.9 0.9 0 1 0 -1.8 0M204.6 239.1a0.9 0.9 0 1 0 1.8 0a0.9 0.9 0 1 0 -1.8 0M214.1 238.8a0.9 0.9 0 1 0 1.8 0a0.9 0.9 0 1 0 -1.8 0M211.4 247.7a0.9 0.9 0 1 0 1.8 0a0.9 0.9 0 1 0 -1.8 0M200.7 251.8a0.9 0.9 0 1 0 1.8 0a0.9 0.9 0 1 0 -1.8 0M206.4 254.3a0.9 0.9 0 1 0 1.8 0a0.9 0.9 0 1 0 -1.8 0M205.5 260.9a0.9 0.9 0 1 0 1.8 0a0.9 0.9 0 1 0 -1.8 0M225.3 244.8a0.9 0.9 0 1 0 1.8 0a0.9 0.9 0 1 0 -1.8 0M226.3 252.4a0.9 0.9 0 1 0 1.8 0a0.9 0.9 0 1 0 -1.8 0M227.2 253.2a0.9 0.9 0 1 0 1.8 0a0.9 0.9 0 1 0 -1.8 0M228.1 249.6a0.9 0.9 0 1 0 1.8 0a0.9 0.9 0 1 0 -1.8 0M229.1 229.9a0.9 0.9 0 1 0 1.8 0a0.9 0.9 0 1 0 -1.8 0M230.1 222.8a0.9 0.9 0 1 0 1.8 0a0.9 0.9 0 1 0 -1.8 0M230.9 234.1a0.9 0.9 0 1 0 1.8 0a0.9 0.9 0 1 0 -1.8 0M231.9 262.7a0.9 0.9 0 1 0 1.8 0a0.9 0.9 0 1 0 -1.8 0M232.9 219.7a0.9 0.9 0 1 0 1.8 0a0.9 0.9 0 1 0 -1.8 0M234 251a0.9 0.9 0 1 0 1.8 0a0.9 0.9 0 1 0 -1.8 0M234.7 234.1a0.9 0.9 0 1 0 1.8 0a0.9 0.9 0 1 0 -1.8 0M235.7 247.2a0.9 0.9 0 1 0 1.8 0a0.9 0.9 0 1 0 -1.8 0M236.8 228.9a0.9 0.9 0 1 0 1.8 0a0.9 0.9 0 1 0 -1.8 0M237.9 240.1a0.9 0.9 0 1 0 1.8 0a0.9 0.9 0 1 0 -1.8 0M222 220.8a0.9 0.9 0 1 0 1.8 0a0.9 0.9 0 1 0 -1.8 0" fill="#151515"/>
<path d="M239.5 168.2V264.5" stroke="#6262ff" stroke-width="1.35" stroke-dasharray="1.3 0.85" fill="none"/>
<path d="M238.9 241.5a0.9 0.9 0 1 0 1.8 0a0.9 0.9 0 1 0 -1.8 0M242.5 237.3a0.9 0.9 0 1 0 1.8 0a0.9 0.9 0 1 0 -1.8 0M241.7 242.5a0.9 0.9 0 1 0 1.8 0a0.9 0.9 0 1 0 -1.8 0M244.6 245.1a0.9 0.9 0 1 0 1.8 0a0.9 0.9 0 1 0 -1.8 0M243.6 248.6a0.9 0.9 0 1 0 1.8 0a0.9 0.9 0 1 0 -1.8 0M240.3 250a0.9 0.9 0 1 0 1.8 0a0.9 0.9 0 1 0 -1.8 0M239.6 250.7a0.9 0.9 0 1 0 1.8 0a0.9 0.9 0 1 0 -1.8 0" fill="#2a9d2a"/>
<rect x="27.6" y="162.7" width="227.9" height="106.4" fill="none" stroke="#cccccc" stroke-width="1"/>
<path d="M316.6 260.4H544.5M316.6 247.26H544.5M316.6 234.11H544.5M316.6 220.97H544.5M316.6 207.83H544.5M316.6 194.69H544.5M316.6 181.54H544.5M316.6 168.4H544.5M327.6 162.6V269.3M361.75 162.6V269.3M395.9 162.6V269.3M430.05 162.6V269.3M464.2 162.6V269.3M498.35 162.6V269.3M532.5 162.6V269.3" stroke="#ebebeb" stroke-width="0.8" fill="none"/>
<path d="M327.1 240.4C327.73 239.7 329.63 237.53 330.9 236.2C332.17 234.87 333.43 233.57 334.7 232.4C335.97 231.23 337.22 230.17 338.5 229.2C339.78 228.23 341.12 227.45 342.4 226.6C343.68 225.75 344.93 224.95 346.2 224.1C347.47 223.25 348.73 222.35 350 221.5C351.27 220.65 352.53 219.73 353.8 219C355.07 218.27 356.33 217.7 357.6 217.1C358.87 216.5 360.12 215.77 361.4 215.4C362.68 215.03 364.02 214.93 365.3 214.9C366.58 214.87 367.83 214.98 369.1 215.2C370.37 215.42 371.63 215.82 372.9 216.2C374.17 216.58 375.43 217.08 376.7 217.5C377.97 217.92 379.23 218.23 380.5 218.7C381.77 219.17 383.02 219.72 384.3 220.3C385.58 220.88 386.92 221.57 388.2 222.2C389.48 222.83 390.37 223.18 392 224.1C393.63 225.02 395.85 226.65 398 227.7C400.15 228.75 402.58 229.45 404.9 230.4C407.22 231.35 409.58 232.78 411.9 233.4C414.22 234.02 416.5 234.28 418.8 234.1C421.1 233.92 423.83 233.35 425.7 232.3C427.57 231.25 428.62 229.77 430 227.8C431.38 225.83 432.68 222.92 434 220.5C435.32 218.08 436.58 215.6 437.9 213.3C439.22 211 440.58 208.8 441.9 206.7C443.22 204.6 444.48 202.47 445.8 200.7C447.12 198.93 448.48 197.42 449.8 196.1C451.12 194.78 452.38 193.78 453.7 192.8C455.02 191.82 456.37 191.18 457.7 190.2C459.03 189.22 460.38 187.67 461.7 186.9C463.02 186.13 464.28 185.93 465.6 185.6C466.92 185.27 468.28 185.08 469.6 184.9C470.92 184.72 472.18 184.22 473.5 184.5C474.82 184.78 476.17 185.77 477.5 186.6C478.83 187.43 480.18 188.47 481.5 189.5C482.82 190.53 484.08 191.58 485.4 192.8C486.72 194.02 488.08 195.48 489.4 196.8C490.72 198.12 491.98 199.38 493.3 200.7C494.62 202.02 495.93 203.38 497.3 204.7C498.67 206.02 499.62 207.27 501.5 208.6C503.38 209.93 506.25 211.52 508.6 212.7C510.95 213.88 513.28 214.93 515.6 215.7C517.92 216.47 520.38 217.15 522.5 217.3C524.62 217.45 526.3 216.98 528.3 216.6C530.3 216.22 533.47 215.27 534.5 215L534.5 257.2C532.12 257.08 526.43 256.8 520.2 256.5C513.97 256.2 504.8 255.75 497.1 255.4C489.4 255.05 479.73 254.48 474 254.4C468.27 254.32 467.67 254.55 462.7 254.9C457.73 255.25 451.13 256.03 444.2 256.5C437.27 256.97 428.13 257.38 421.1 257.7C414.07 258.02 408.3 258.28 402 258.4C395.7 258.52 389.82 258.5 383.3 258.4C376.78 258.3 369.72 257.8 362.9 257.8C356.08 257.8 348.37 258.23 342.4 258.4C336.43 258.57 329.65 258.73 327.1 258.8Z" fill="#dd8d51" fill-opacity="0.35"/>
<path d="M327.1 252.3C328.3 251.85 331.75 250.55 334.3 249.6C336.85 248.65 339.68 247.62 342.4 246.6C345.12 245.58 347.87 244.25 350.6 243.5C353.33 242.75 356.42 242.55 358.8 242.1C361.18 241.65 362.52 240.9 364.9 240.8C367.28 240.7 370.03 241.15 373.1 241.5C376.17 241.85 379.88 242.33 383.3 242.9C386.72 243.47 391.15 244.43 393.6 244.9C396.05 245.37 395.73 245.1 398 245.7C400.27 246.3 404.12 247.85 407.2 248.5C410.28 249.15 413.42 249.53 416.5 249.6C419.58 249.67 422.62 249.55 425.7 248.9C428.78 248.25 431.92 247.12 435 245.7C438.08 244.28 441.13 242.25 444.2 240.4C447.27 238.55 450.32 236.27 453.4 234.6C456.48 232.93 460 231.28 462.7 230.4C465.4 229.52 467.72 229.45 469.6 229.3C471.48 229.15 471.73 229 474 229.5C476.27 230 480.12 231.15 483.2 232.3C486.28 233.45 489.42 235.25 492.5 236.4C495.58 237.55 498.62 238.35 501.7 239.2C504.78 240.05 507.92 240.92 511 241.5C514.08 242.08 517.13 242.62 520.2 242.7C523.27 242.78 527.02 242.27 529.4 242C531.78 241.73 533.65 241.25 534.5 241.1" stroke="#e6772b" stroke-width="1.05" fill="none" stroke-linecap="round"/>
<path d="M325.8 260.2a0.9 0.9 0 1 0 1.8 0a0.9 0.9 0 1 0 -1.8 0M326.9 256.1a0.9 0.9 0 1 0 1.8 0a0.9 0.9 0 1 0 -1.8 0M328 255.7a0.9 0.9 0 1 0 1.8 0a0.9 0.9 0 1 0 -1.8 0M329.4 251.9a0.9 0.9 0 1 0 1.8 0a0.9 0.9 0 1 0 -1.8 0M329.9 257.5a0.9 0.9 0 1 0 1.8 0a0.9 0.9 0 1 0 -1.8 0M330.7 254.7a0.9 0.9 0 1 0 1.8 0a0.9 0.9 0 1 0 -1.8 0M331.7 256.5a0.9 0.9 0 1 0 1.8 0a0.9 0.9 0 1 0 -1.8 0M332.7 247.8a0.9 0.9 0 1 0 1.8 0a0.9 0.9 0 1 0 -1.8 0M333.5 245.7a0.9 0.9 0 1 0 1.8 0a0.9 0.9 0 1 0 -1.8 0M334.5 247.8a0.9 0.9 0 1 0 1.8 0a0.9 0.9 0 1 0 -1.8 0M335.5 249.2a0.9 0.9 0 1 0 1.8 0a0.9 0.9 0 1 0 -1.8 0M336.6 251.5a0.9 0.9 0 1 0 1.8 0a0.9 0.9 0 1 0 -1.8 0M337.7 255.1a0.9 0.9 0 1 0 1.8 0a0.9 0.9 0 1 0 -1.8 0M338.6 251a0.9 0.9 0 1 0 1.8 0a0.9 0.9 0 1 0 -1.8 0M339.6 207.6a0.9 0.9 0 1 0 1.8 0a0.9 0.9 0 1 0 -1.8 0M340.7 243.2a0.9 0.9 0 1 0 1.8 0a0.9 0.9 0 1 0 -1.8 0M341.8 251.5a0.9 0.9 0 1 0 1.8 0a0.9 0.9 0 1 0 -1.8 0M342.8 240.9a0.9 0.9 0 1 0 1.8 0a0.9 0.9 0 1 0 -1.8 0M343.5 253.3a0.9 0.9 0 1 0 1.8 0a0.9 0.9 0 1 0 -1.8 0M344.6 257.9a0.9 0.9 0 1 0 1.8 0a0.9 0.9 0 1 0 -1.8 0M345.6 243.6a0.9 0.9 0 1 0 1.8 0a0.9 0.9 0 1 0 -1.8 0M346.5 228.8a0.9 0.9 0 1 0 1.8 0a0.9 0.9 0 1 0 -1.8 0M347.4 245.4a0.9 0.9 0 1 0 1.8 0a0.9 0.9 0 1 0 -1.8 0M348.6 241.8a0.9 0.9 0 1 0 1.8 0a0.9 0.9 0 1 0 -1.8 0M349.3 227a0.9 0.9 0 1 0 1.8 0a0.9 0.9 0 1 0 -1.8 0M350.4 248.2a0.9 0.9 0 1 0 1.8 0a0.9 0.9 0 1 0 -1.8 0M351.5 252.6a0.9 0.9 0 1 0 1.8 0a0.9 0.9 0 1 0 -1.8 0M352.5 213.9a0.9 0.9 0 1 0 1.8 0a0.9 0.9 0 1 0 -1.8 0M353.2 248.2a0.9 0.9 0 1 0 1.8 0a0.9 0.9 0 1 0 -1.8 0M354.3 233.9a0.9 0.9 0 1 0 1.8 0a0.9 0.9 0 1 0 -1.8 0M355.3 243.2a0.9 0.9 0 1 0 1.8 0a0.9 0.9 0 1 0 -1.8 0M356.2 251a0.9 0.9 0 1 0 1.8 0a0.9 0.9 0 1 0 -1.8 0M357.3 256.1a0.9 0.9 0 1 0 1.8 0a0.9 0.9 0 1 0 -1.8 0M358.4 255.7a0.9 0.9 0 1 0 1.8 0a0.9 0.9 0 1 0 -1.8 0M359.4 218.7a0.9 0.9 0 1 0 1.8 0a0.9 0.9 0 1 0 -1.8 0M360.4 238.8a0.9 0.9 0 1 0 1.8 0a0.9 0.9 0 1 0 -1.8 0M361.2 226a0.9 0.9 0 1 0 1.8 0a0.9 0.9 0 1 0 -1.8 0M362.2 244a0.9 0.9 0 1 0 1.8 0a0.9 0.9 0 1 0 -1.8 0M363.2 240.9a0.9 0.9 0 1 0 1.8 0a0.9 0.9 0 1 0 -1.8 0M364 256.1a0.9 0.9 0 1 0 1.8 0a0.9 0.9 0 1 0 -1.8 0M364.9 256.5a0.9 0.9 0 1 0 1.8 0a0.9 0.9 0 1 0 -1.8 0M366 228a0.9 0.9 0 1 0 1.8 0a0.9 0.9 0 1 0 -1.8 0M366.9 232.5a0.9 0.9 0 1 0 1.8 0a0.9 0.9 0 1 0 -1.8 0M367.9 245.4a0.9 0.9 0 1 0 1.8 0a0.9 0.9 0 1 0 -1.8 0M369 245.7a0.9 0.9 0 1 0 1.8 0a0.9 0.9 0 1 0 -1.8 0M370.1 236.7a0.9 0.9 0 1 0 1.8 0a0.9 0.9 0 1 0 -1.8 0M371.1 258.9a0.9 0.9 0 1 0 1.8 0a0.9 0.9 0 1 0 -1.8 0M372.1 258.9a0.9 0.9 0 1 0 1.8 0a0.9 0.9 0 1 0 -1.8 0M372.9 240.4a0.9 0.9 0 1 0 1.8 0a0.9 0.9 0 1 0 -1.8 0M373.9 232.1a0.9 0.9 0 1 0 1.8 0a0.9 0.9 0 1 0 -1.8 0M374.8 250.1a0.9 0.9 0 1 0 1.8 0a0.9 0.9 0 1 0 -1.8 0M376 245.7a0.9 0.9 0 1 0 1.8 0a0.9 0.9 0 1 0 -1.8 0M377.1 237.7a0.9 0.9 0 1 0 1.8 0a0.9 0.9 0 1 0 -1.8 0M378 255.1a0.9 0.9 0 1 0 1.8 0a0.9 0.9 0 1 0 -1.8 0M379 253.7a0.9 0.9 0 1 0 1.8 0a0.9 0.9 0 1 0 -1.8 0M379.8 239.9a0.9 0.9 0 1 0 1.8 0a0.9 0.9 0 1 0 -1.8 0M380.8 246.8a0.9 0.9 0 1 0 1.8 0a0.9 0.9 0 1 0 -1.8 0M381.8 248.2a0.9 0.9 0 1 0 1.8 0a0.9 0.9 0 1 0 -1.8 0M382.6 219.7a0.9 0.9 0 1 0 1.8 0a0.9 0.9 0 1 0 -1.8 0M383.6 242.7a0.9 0.9 0 1 0 1.8 0a0.9 0.9 0 1 0 -1.8 0M384.5 252.6a0.9 0.9 0 1 0 1.8 0a0.9 0.9 0 1 0 -1.8 0M385.4 257.9a0.9 0.9 0 1 0 1.8 0a0.9 0.9 0 1 0 -1.8 0M386.3 249.2a0.9 0.9 0 1 0 1.8 0a0.9 0.9 0 1 0 -1.8 0M387.3 234.9a0.9 0.9 0 1 0 1.8 0a0.9 0.9 0 1 0 -1.8 0M388.4 240.9a0.9 0.9 0 1 0 1.8 0a0.9 0.9 0 1 0 -1.8 0M389.5 239.1a0.9 0.9 0 1 0 1.8 0a0.9 0.9 0 1 0 -1.8 0M390.5 252.6a0.9 0.9 0 1 0 1.8 0a0.9 0.9 0 1 0 -1.8 0M391.2 251.5a0.9 0.9 0 1 0 1.8 0a0.9 0.9 0 1 0 -1.8 0M392.3 234.6a0.9 0.9 0 1 0 1.8 0a0.9 0.9 0 1 0 -1.8 0M393.3 239.1a0.9 0.9 0 1 0 1.8 0a0.9 0.9 0 1 0 -1.8 0M394.2 256.1a0.9 0.9 0 1 0 1.8 0a0.9 0.9 0 1 0 -1.8 0M395.3 249.2a0.9 0.9 0 1 0 1.8 0a0.9 0.9 0 1 0 -1.8 0M396.4 247.1a0.9 0.9 0 1 0 1.8 0a0.9 0.9 0 1 0 -1.8 0M397.8 258.9a0.9 0.9 0 1 0 1.8 0a0.9 0.9 0 1 0 -1.8 0M399.2 258.9a0.9 0.9 0 1 0 1.8 0a0.9 0.9 0 1 0 -1.8 0M400.2 245.7a0.9 0.9 0 1 0 1.8 0a0.9 0.9 0 1 0 -1.8 0M401.2 220.1a0.9 0.9 0 1 0 1.8 0a0.9 0.9 0 1 0 -1.8 0M402 237.1a0.9 0.9 0 1 0 1.8 0a0.9 0.9 0 1 0 -1.8 0M403.1 237.4a0.9 0.9 0 1 0 1.8 0a0.9 0.9 0 1 0 -1.8 0M404.3 237.7a0.9 0.9 0 1 0 1.8 0a0.9 0.9 0 1 0 -1.8 0M405.4 245a0.9 0.9 0 1 0 1.8 0a0.9 0.9 0 1 0 -1.8 0M406.3 258.2a0.9 0.9 0 1 0 1.8 0a0.9 0.9 0 1 0 -1.8 0M407 237.7a0.9 0.9 0 1 0 1.8 0a0.9 0.9 0 1 0 -1.8 0M408.1 241.6a0.9 0.9 0 1 0 1.8 0a0.9 0.9 0 1 0 -1.8 0M409.1 236.3a0.9 0.9 0 1 0 1.8 0a0.9 0.9 0 1 0 -1.8 0M410.1 244a0.9 0.9 0 1 0 1.8 0a0.9 0.9 0 1 0 -1.8 0M410.9 244.6a0.9 0.9 0 1 0 1.8 0a0.9 0.9 0 1 0 -1.8 0M412.3 257.5a0.9 0.9 0 1 0 1.8 0a0.9 0.9 0 1 0 -1.8 0M412.8 259.8a0.9 0.9 0 1 0 1.8 0a0.9 0.9 0 1 0 -1.8 0M413.7 257.9a0.9 0.9 0 1 0 1.8 0a0.9 0.9 0 1 0 -1.8 0M414.6 235.7a0.9 0.9 0 1 0 1.8 0a0.9 0.9 0 1 0 -1.8 0M415.6 258.9a0.9 0.9 0 1 0 1.8 0a0.9 0.9 0 1 0 -1.8 0M416.7 235.7a0.9 0.9 0 1 0 1.8 0a0.9 0.9 0 1 0 -1.8 0M417.4 247.4a0.9 0.9 0 1 0 1.8 0a0.9 0.9 0 1 0 -1.8 0M418.4 257.5a0.9 0.9 0 1 0 1.8 0a0.9 0.9 0 1 0 -1.8 0M419.5 258.9a0.9 0.9 0 1 0 1.8 0a0.9 0.9 0 1 0 -1.8 0M420.6 257.1a0.9 0.9 0 1 0 1.8 0a0.9 0.9 0 1 0 -1.8 0M421.6 249.2a0.9 0.9 0 1 0 1.8 0a0.9 0.9 0 1 0 -1.8 0M422.5 248.8a0.9 0.9 0 1 0 1.8 0a0.9 0.9 0 1 0 -1.8 0M423.6 256.5a0.9 0.9 0 1 0 1.8 0a0.9 0.9 0 1 0 -1.8 0M424.8 256.1a0.9 0.9 0 1 0 1.8 0a0.9 0.9 0 1 0 -1.8 0M425.7 259.8a0.9 0.9 0 1 0 1.8 0a0.9 0.9 0 1 0 -1.8 0M426.7 251.5a0.9 0.9 0 1 0 1.8 0a0.9 0.9 0 1 0 -1.8 0M427.5 250.1a0.9 0.9 0 1 0 1.8 0a0.9 0.9 0 1 0 -1.8 0M428.5 248.8a0.9 0.9 0 1 0 1.8 0a0.9 0.9 0 1 0 -1.8 0M429.5 246.4a0.9 0.9 0 1 0 1.8 0a0.9 0.9 0 1 0 -1.8 0M430.3 256.1a0.9 0.9 0 1 0 1.8 0a0.9 0.9 0 1 0 -1.8 0M431.3 241.8a0.9 0.9 0 1 0 1.8 0a0.9 0.9 0 1 0 -1.8 0M432.2 244a0.9 0.9 0 1 0 1.8 0a0.9 0.9 0 1 0 -1.8 0M433.1 256.5a0.9 0.9 0 1 0 1.8 0a0.9 0.9 0 1 0 -1.8 0M434 248.2a0.9 0.9 0 1 0 1.8 0a0.9 0.9 0 1 0 -1.8 0M435 245a0.9 0.9 0 1 0 1.8 0a0.9 0.9 0 1 0 -1.8 0M436.1 240.9a0.9 0.9 0 1 0 1.8 0a0.9 0.9 0 1 0 -1.8 0M437.2 252.6a0.9 0.9 0 1 0 1.8 0a0.9 0.9 0 1 0 -1.8 0M438.2 246a0.9 0.9 0 1 0 1.8 0a0.9 0.9 0 1 0 -1.8 0M439.2 257.5a0.9 0.9 0 1 0 1.8 0a0.9 0.9 0 1 0 -1.8 0M439.7 257.4a0.9 0.9 0 1 0 1.8 0a0.9 0.9 0 1 0 -1.8 0M441 258.7a0.9 0.9 0 1 0 1.8 0a0.9 0.9 0 1 0 -1.8 0M441.6 220.2a0.9 0.9 0 1 0 1.8 0a0.9 0.9 0 1 0 -1.8 0M442.9 217.6a0.9 0.9 0 1 0 1.8 0a0.9 0.9 0 1 0 -1.8 0M444.2 217a0.9 0.9 0 1 0 1.8 0a0.9 0.9 0 1 0 -1.8 0M444.2 247a0.9 0.9 0 1 0 1.8 0a0.9 0.9 0 1 0 -1.8 0M445.8 233.7a0.9 0.9 0 1 0 1.8 0a0.9 0.9 0 1 0 -1.8 0M446.9 258.2a0.9 0.9 0 1 0 1.8 0a0.9 0.9 0 1 0 -1.8 0M448.1 254.5a0.9 0.9 0 1 0 1.8 0a0.9 0.9 0 1 0 -1.8 0M449 232.1a0.9 0.9 0 1 0 1.8 0a0.9 0.9 0 1 0 -1.8 0M449.7 219.2a0.9 0.9 0 1 0 1.8 0a0.9 0.9 0 1 0 -1.8 0M450.9 244.9a0.9 0.9 0 1 0 1.8 0a0.9 0.9 0 1 0 -1.8 0M451.7 218.1a0.9 0.9 0 1 0 1.8 0a0.9 0.9 0 1 0 -1.8 0M452.9 222.1a0.9 0.9 0 1 0 1.8 0a0.9 0.9 0 1 0 -1.8 0M453.8 252.3a0.9 0.9 0 1 0 1.8 0a0.9 0.9 0 1 0 -1.8 0M455 259a0.9 0.9 0 1 0 1.8 0a0.9 0.9 0 1 0 -1.8 0M455.8 218.9a0.9 0.9 0 1 0 1.8 0a0.9 0.9 0 1 0 -1.8 0M457 226.9a0.9 0.9 0 1 0 1.8 0a0.9 0.9 0 1 0 -1.8 0M457.7 237.8a0.9 0.9 0 1 0 1.8 0a0.9 0.9 0 1 0 -1.8 0M458.6 212.5a0.9 0.9 0 1 0 1.8 0a0.9 0.9 0 1 0 -1.8 0M459.8 224a0.9 0.9 0 1 0 1.8 0a0.9 0.9 0 1 0 -1.8 0M460.9 253.4a0.9 0.9 0 1 0 1.8 0a0.9 0.9 0 1 0 -1.8 0M461.9 244.6a0.9 0.9 0 1 0 1.8 0a0.9 0.9 0 1 0 -1.8 0M462.5 196.4a0.9 0.9 0 1 0 1.8 0a0.9 0.9 0 1 0 -1.8 0M463.5 205.2a0.9 0.9 0 1 0 1.8 0a0.9 0.9 0 1 0 -1.8 0M464.1 217.6a0.9 0.9 0 1 0 1.8 0a0.9 0.9 0 1 0 -1.8 0M465.1 241.7a0.9 0.9 0 1 0 1.8 0a0.9 0.9 0 1 0 -1.8 0M466.2 209.6a0.9 0.9 0 1 0 1.8 0a0.9 0.9 0 1 0 -1.8 0M467.3 242.6a0.9 0.9 0 1 0 1.8 0a0.9 0.9 0 1 0 -1.8 0M468.3 246.5a0.9 0.9 0 1 0 1.8 0a0.9 0.9 0 1 0 -1.8 0M469.4 225a0.9 0.9 0 1 0 1.8 0a0.9 0.9 0 1 0 -1.8 0M470.2 231.4a0.9 0.9 0 1 0 1.8 0a0.9 0.9 0 1 0 -1.8 0M471.8 231.4a0.9 0.9 0 1 0 1.8 0a0.9 0.9 0 1 0 -1.8 0M472.6 210.9a0.9 0.9 0 1 0 1.8 0a0.9 0.9 0 1 0 -1.8 0M473.7 239a0.9 0.9 0 1 0 1.8 0a0.9 0.9 0 1 0 -1.8 0M474.7 247.5a0.9 0.9 0 1 0 1.8 0a0.9 0.9 0 1 0 -1.8 0M475.8 204.8a0.9 0.9 0 1 0 1.8 0a0.9 0.9 0 1 0 -1.8 0M476.9 234.6a0.9 0.9 0 1 0 1.8 0a0.9 0.9 0 1 0 -1.8 0M477.4 217.3a0.9 0.9 0 1 0 1.8 0a0.9 0.9 0 1 0 -1.8 0M479.1 219.7a0.9 0.9 0 1 0 1.8 0a0.9 0.9 0 1 0 -1.8 0M479.9 204.8a0.9 0.9 0 1 0 1.8 0a0.9 0.9 0 1 0 -1.8 0M481.2 245.5a0.9 0.9 0 1 0 1.8 0a0.9 0.9 0 1 0 -1.8 0M482.3 207.7a0.9 0.9 0 1 0 1.8 0a0.9 0.9 0 1 0 -1.8 0M483.5 228.3a0.9 0.9 0 1 0 1.8 0a0.9 0.9 0 1 0 -1.8 0M484.7 222.2a0.9 0.9 0 1 0 1.8 0a0.9 0.9 0 1 0 -1.8 0M485.6 227.3a0.9 0.9 0 1 0 1.8 0a0.9 0.9 0 1 0 -1.8 0M486.7 235.8a0.9 0.9 0 1 0 1.8 0a0.9 0.9 0 1 0 -1.8 0M487.6 228.9a0.9 0.9 0 1 0 1.8 0a0.9 0.9 0 1 0 -1.8 0M488.8 256.7a0.9 0.9 0 1 0 1.8 0a0.9 0.9 0 1 0 -1.8 0M489.9 246.6a0.9 0.9 0 1 0 1.8 0a0.9 0.9 0 1 0 -1.8 0M490.9 229.4a0.9 0.9 0 1 0 1.8 0a0.9 0.9 0 1 0 -1.8 0M492 220.2a0.9 0.9 0 1 0 1.8 0a0.9 0.9 0 1 0 -1.8 0M492.8 237.9a0.9 0.9 0 1 0 1.8 0a0.9 0.9 0 1 0 -1.8 0M494.1 239a0.9 0.9 0 1 0 1.8 0a0.9 0.9 0 1 0 -1.8 0M495.2 250.3a0.9 0.9 0 1 0 1.8 0a0.9 0.9 0 1 0 -1.8 0M496.3 236.9a0.9 0.9 0 1 0 1.8 0a0.9 0.9 0 1 0 -1.8 0M497.3 249.2a0.9 0.9 0 1 0 1.8 0a0.9 0.9 0 1 0 -1.8 0M498.4 231.5a0.9 0.9 0 1 0 1.8 0a0.9 0.9 0 1 0 -1.8 0M499.5 228.3a0.9 0.9 0 1 0 1.8 0a0.9 0.9 0 1 0 -1.8 0M500.5 227.3a0.9 0.9 0 1 0 1.8 0a0.9 0.9 0 1 0 -1.8 0M501.6 258.8a0.9 0.9 0 1 0 1.8 0a0.9 0.9 0 1 0 -1.8 0M502.8 224.1a0.9 0.9 0 1 0 1.8 0a0.9 0.9 0 1 0 -1.8 0M503.7 210.1a0.9 0.9 0 1 0 1.8 0a0.9 0.9 0 1 0 -1.8 0M504.8 235.8a0.9 0.9 0 1 0 1.8 0a0.9 0.9 0 1 0 -1.8 0M506 229.9a0.9 0.9 0 1 0 1.8 0a0.9 0.9 0 1 0 -1.8 0M506.9 239.5a0.9 0.9 0 1 0 1.8 0a0.9 0.9 0 1 0 -1.8 0M508.1 243.9a0.9 0.9 0 1 0 1.8 0a0.9 0.9 0 1 0 -1.8 0M508.9 251.9a0.9 0.9 0 1 0 1.8 0a0.9 0.9 0 1 0 -1.8 0M510.1 242.3a0.9 0.9 0 1 0 1.8 0a0.9 0.9 0 1 0 -1.8 0M511.1 246.3a0.9 0.9 0 1 0 1.8 0a0.9 0.9 0 1 0 -1.8 0M512 238a0.9 0.9 0 1 0 1.8 0a0.9 0.9 0 1 0 -1.8 0M513.1 237.4a0.9 0.9 0 1 0 1.8 0a0.9 0.9 0 1 0 -1.8 0M514.2 246.3a0.9 0.9 0 1 0 1.8 0a0.9 0.9 0 1 0 -1.8 0M515.4 244.5a0.9 0.9 0 1 0 1.8 0a0.9 0.9 0 1 0 -1.8 0M516.3 244.1a0.9 0.9 0 1 0 1.8 0a0.9 0.9 0 1 0 -1.8 0M517.1 240.6a0.9 0.9 0 1 0 1.8 0a0.9 0.9 0 1 0 -1.8 0M517.9 244.5a0.9 0.9 0 1 0 1.8 0a0.9 0.9 0 1 0 -1.8 0M519 241.8a0.9 0.9 0 1 0 1.8 0a0.9 0.9 0 1 0 -1.8 0M520 231.7a0.9 0.9 0 1 0 1.8 0a0.9 0.9 0 1 0 -1.8 0M520.9 236.9a0.9 0.9 0 1 0 1.8 0a0.9 0.9 0 1 0 -1.8 0M522 248.3a0.9 0.9 0 1 0 1.8 0a0.9 0.9 0 1 0 -1.8 0M522.8 253.7a0.9 0.9 0 1 0 1.8 0a0.9 0.9 0 1 0 -1.8 0M523.6 247.1a0.9 0.9 0 1 0 1.8 0a0.9 0.9 0 1 0 -1.8 0M524.5 251.7a0.9 0.9 0 1 0 1.8 0a0.9 0.9 0 1 0 -1.8 0M525.4 248.9a0.9 0.9 0 1 0 1.8 0a0.9 0.9 0 1 0 -1.8 0M526.8 226.9a0.9 0.9 0 1 0 1.8 0a0.9 0.9 0 1 0 -1.8 0" fill="#151515"/>
<path d="M528.6 167.7V264.6" stroke="#6262ff" stroke-width="1.35" stroke-dasharray="1.3 0.85" fill="none"/>
<path d="M527.7 233.8a0.9 0.9 0 1 0 1.8 0a0.9 0.9 0 1 0 -1.8 0M528.5 244.1a0.9 0.9 0 1 0 1.8 0a0.9 0.9 0 1 0 -1.8 0M529.7 250.6a0.9 0.9 0 1 0 1.8 0a0.9 0.9 0 1 0 -1.8 0M530.5 251.4a0.9 0.9 0 1 0 1.8 0a0.9 0.9 0 1 0 -1.8 0M531.6 244.5a0.9 0.9 0 1 0 1.8 0a0.9 0.9 0 1 0 -1.8 0M532.5 247.1a0.9 0.9 0 1 0 1.8 0a0.9 0.9 0 1 0 -1.8 0M533.7 240.9a0.9 0.9 0 1 0 1.8 0a0.9 0.9 0 1 0 -1.8 0" fill="#2a9d2a"/>
<rect x="316.6" y="162.6" width="227.9" height="106.7" fill="none" stroke="#cccccc" stroke-width="1"/>
<path d="M33.6 412.3H255.8M33.6 389.35H255.8M33.6 366.4H255.8M33.6 343.45H255.8M33.6 320.5H255.8M38.5 314.5V418.6M61.06 314.5V418.6M83.62 314.5V418.6M106.18 314.5V418.6M128.74 314.5V418.6M151.3 314.5V418.6M173.86 314.5V418.6M196.42 314.5V418.6M218.98 314.5V418.6M241.54 314.5V418.6" stroke="#ebebeb" stroke-width="0.8" fill="none"/>
<path d="M43.2 405.5C43.63 405 44.88 403.48 45.8 402.5C46.72 401.52 47.73 400.57 48.7 399.6C49.67 398.63 50.63 397.6 51.6 396.7C52.57 395.8 53.52 394.98 54.5 394.2C55.48 393.42 56.52 392.62 57.5 392C58.48 391.38 59.43 390.92 60.4 390.5C61.37 390.08 62.33 389.77 63.3 389.5C64.27 389.23 65.23 388.97 66.2 388.9C67.17 388.83 68.13 389 69.1 389.1C70.07 389.2 71.03 389.32 72 389.5C72.97 389.68 73.93 389.97 74.9 390.2C75.87 390.43 76.53 390.42 77.8 390.9C79.07 391.38 80.85 392.45 82.5 393.1C84.15 393.75 85.98 394.28 87.7 394.8C89.42 395.32 91.1 395.92 92.8 396.2C94.5 396.48 96.18 396.67 97.9 396.5C99.62 396.33 101.47 396.62 103.1 395.2C104.73 393.78 106.3 390.48 107.7 388C109.1 385.52 110.35 382.6 111.5 380.3C112.65 378 113.7 376.5 114.6 374.2C115.5 371.9 116.13 369.07 116.9 366.5C117.67 363.93 118.43 361.37 119.2 358.8C119.97 356.23 120.73 353.67 121.5 351.1C122.27 348.53 123.02 345.58 123.8 343.4C124.58 341.22 125.42 339.42 126.2 338C126.98 336.58 127.73 335.6 128.5 334.9C129.27 334.2 130.03 333.98 130.8 333.8C131.57 333.62 132.33 333.53 133.1 333.8C133.87 334.07 134.63 334.63 135.4 335.4C136.17 336.17 136.87 337.25 137.7 338.4C138.53 339.55 139.58 341.02 140.4 342.3C141.22 343.58 141.87 344.82 142.6 346.1C143.33 347.38 144.07 348.72 144.8 350C145.53 351.28 146.27 352.62 147 353.8C147.73 354.98 148.47 356.08 149.2 357.1C149.93 358.12 150.67 359.07 151.4 359.9C152.13 360.73 152.87 361.38 153.6 362.1C154.33 362.82 155.07 363.55 155.8 364.2C156.53 364.85 157.25 365.37 158 366C158.75 366.63 159.48 367.37 160.3 368C161.12 368.63 162.03 369.22 162.9 369.8C163.77 370.38 164.62 370.97 165.5 371.5C166.38 372.03 167.32 372.55 168.2 373C169.08 373.45 169.92 373.87 170.8 374.2C171.68 374.53 172.62 374.72 173.5 375C174.38 375.28 175.23 375.6 176.1 375.9C176.97 376.2 177.82 376.5 178.7 376.8C179.58 377.1 180.52 377.4 181.4 377.7C182.28 378 183.13 378.33 184 378.6C184.87 378.87 185.7 379.13 186.6 379.3C187.5 379.47 188.2 379.45 189.4 379.6C190.6 379.75 192.42 380.27 193.8 380.2C195.18 380.13 196.42 379.87 197.7 379.2C198.98 378.53 200.22 377.15 201.5 376.2C202.78 375.25 204.12 374.67 205.4 373.5C206.68 372.33 207.92 370.82 209.2 369.2C210.48 367.58 211.82 365.33 213.1 363.8C214.38 362.27 215.62 361.22 216.9 360C218.18 358.78 219.45 357.82 220.8 356.5C222.15 355.18 223.58 353.9 225 352.1C226.42 350.3 228.12 347.95 229.3 345.7C230.48 343.45 231.15 340.62 232.1 338.6C233.05 336.58 234.03 334.92 235 333.6C235.97 332.28 236.95 331.48 237.9 330.7C238.85 329.92 239.47 329.3 240.7 328.9C241.93 328.5 244.53 328.4 245.3 328.3L245.3 402.8C244.08 402.87 241.1 402.93 238 403.2C234.9 403.47 230.85 403.93 226.7 404.4C222.55 404.87 217.62 405.52 213.1 406C208.58 406.48 204.12 407 199.6 407.3C195.08 407.6 189.48 407.7 186 407.8C182.52 407.9 181.72 407.98 178.7 407.9C175.68 407.82 171.5 407.58 167.9 407.3C164.3 407.02 160.33 406.67 157.1 406.2C153.87 405.73 151.37 405.03 148.5 404.5C145.63 403.97 142.78 403.25 139.9 403C137.02 402.75 134.08 402.82 131.2 403C128.32 403.18 125.47 403.75 122.6 404.1C119.73 404.45 116.68 404.23 114 405.1C111.32 405.97 110.6 408.45 106.5 409.3C102.4 410.15 95.12 410.05 89.4 410.2C83.68 410.35 77.92 410.15 72.2 410.2C66.48 410.25 59.95 410.22 55.1 410.5C50.25 410.78 45.1 411.67 43.1 411.9Z" fill="#dd8d51" fill-opacity="0.35"/>
<path d="M43.1 408.8C43.97 408.47 46.3 407.57 48.3 406.8C50.3 406.03 52.82 405.07 55.1 404.2C57.38 403.33 60 402.17 62 401.6C64 401.03 65.4 400.85 67.1 400.8C68.8 400.75 69.92 401.02 72.2 401.3C74.48 401.58 77.93 402.1 80.8 402.5C83.67 402.9 86.55 403.33 89.4 403.7C92.25 404.07 95.62 404.58 97.9 404.7C100.18 404.82 101.58 404.65 103.1 404.4C104.62 404.15 105.72 404.27 107 403.2C108.28 402.13 109.4 400.62 110.8 398C112.2 395.38 113.87 390.2 115.4 387.5C116.93 384.8 118.48 383.48 120 381.8C121.52 380.12 123.17 378.37 124.5 377.4C125.83 376.43 126.85 376.3 128 376C129.15 375.7 130.27 375.55 131.4 375.6C132.53 375.65 133.67 375.83 134.8 376.3C135.93 376.77 137.08 377.65 138.2 378.4C139.32 379.15 140.37 379.93 141.5 380.8C142.63 381.67 143.83 382.58 145 383.6C146.17 384.62 147.2 385.83 148.5 386.9C149.8 387.97 151 389.12 152.8 390C154.6 390.88 156.78 391.58 159.3 392.2C161.82 392.82 165.03 393.23 167.9 393.7C170.77 394.17 173.48 394.55 176.5 395C179.52 395.45 183.28 396.17 186 396.4C188.72 396.63 190.53 396.7 192.8 396.4C195.07 396.1 197.33 395.35 199.6 394.6C201.87 393.85 204.15 392.92 206.4 391.9C208.65 390.88 210.85 389.7 213.1 388.5C215.35 387.3 217.63 386.02 219.9 384.7C222.17 383.38 224.43 381.97 226.7 380.6C228.97 379.23 231.42 377.55 233.5 376.5C235.58 375.45 237.23 374.82 239.2 374.3C241.17 373.78 244.28 373.55 245.3 373.4" stroke="#e6772b" stroke-width="1.05" fill="none" stroke-linecap="round"/>
<path d="M42.4 411.9a0.9 0.9 0 1 0 1.8 0a0.9 0.9 0 1 0 -1.8 0M43.2 411a0.9 0.9 0 1 0 1.8 0a0.9 0.9 0 1 0 -1.8 0M44.1 410.8a0.9 0.9 0 1 0 1.8 0a0.9 0.9 0 1 0 -1.8 0M45 410.3a0.9 0.9 0 1 0 1.8 0a0.9 0.9 0 1 0 -1.8 0M45.8 410.8a0.9 0.9 0 1 0 1.8 0a0.9 0.9 0 1 0 -1.8 0M46.7 410.2a0.9 0.9 0 1 0 1.8 0a0.9 0.9 0 1 0 -1.8 0M44.7 407.6a0.9 0.9 0 1 0 1.8 0a0.9 0.9 0 1 0 -1.8 0M46.1 407.2a0.9 0.9 0 1 0 1.8 0a0.9 0.9 0 1 0 -1.8 0M47.3 406.7a0.9 0.9 0 1 0 1.8 0a0.9 0.9 0 1 0 -1.8 0M48.4 394.6a0.9 0.9 0 1 0 1.8 0a0.9 0.9 0 1 0 -1.8 0M49 409.7a0.9 0.9 0 1 0 1.8 0a0.9 0.9 0 1 0 -1.8 0M50.1 406.3a0.9 0.9 0 1 0 1.8 0a0.9 0.9 0 1 0 -1.8 0M50.7 408.9a0.9 0.9 0 1 0 1.8 0a0.9 0.9 0 1 0 -1.8 0M51.6 401.4a0.9 0.9 0 1 0 1.8 0a0.9 0.9 0 1 0 -1.8 0M52.2 402.3a0.9 0.9 0 1 0 1.8 0a0.9 0.9 0 1 0 -1.8 0M53.1 404a0.9 0.9 0 1 0 1.8 0a0.9 0.9 0 1 0 -1.8 0M53.8 401.2a0.9 0.9 0 1 0 1.8 0a0.9 0.9 0 1 0 -1.8 0M54.7 406.9a0.9 0.9 0 1 0 1.8 0a0.9 0.9 0 1 0 -1.8 0M55.3 403.7a0.9 0.9 0 1 0 1.8 0a0.9 0.9 0 1 0 -1.8 0M55.9 395.6a0.9 0.9 0 1 0 1.8 0a0.9 0.9 0 1 0 -1.8 0M56.7 407.4a0.9 0.9 0 1 0 1.8 0a0.9 0.9 0 1 0 -1.8 0M57 395.6a0.9 0.9 0 1 0 1.8 0a0.9 0.9 0 1 0 -1.8 0M57.6 399a0.9 0.9 0 1 0 1.8 0a0.9 0.9 0 1 0 -1.8 0M58.1 407.2a0.9 0.9 0 1 0 1.8 0a0.9 0.9 0 1 0 -1.8 0M58.9 398a0.9 0.9 0 1 0 1.8 0a0.9 0.9 0 1 0 -1.8 0M59.1 406.9a0.9 0.9 0 1 0 1.8 0a0.9 0.9 0 1 0 -1.8 0M60 401.2a0.9 0.9 0 1 0 1.8 0a0.9 0.9 0 1 0 -1.8 0M60.7 406.9a0.9 0.9 0 1 0 1.8 0a0.9 0.9 0 1 0 -1.8 0M61.5 390.4a0.9 0.9 0 1 0 1.8 0a0.9 0.9 0 1 0 -1.8 0M62.1 398.3a0.9 0.9 0 1 0 1.8 0a0.9 0.9 0 1 0 -1.8 0M63 409.3a0.9 0.9 0 1 0 1.8 0a0.9 0.9 0 1 0 -1.8 0M63.6 407.6a0.9 0.9 0 1 0 1.8 0a0.9 0.9 0 1 0 -1.8 0M64.3 393.2a0.9 0.9 0 1 0 1.8 0a0.9 0.9 0 1 0 -1.8 0M65.1 393.2a0.9 0.9 0 1 0 1.8 0a0.9 0.9 0 1 0 -1.8 0M66 400.9a0.9 0.9 0 1 0 1.8 0a0.9 0.9 0 1 0 -1.8 0M66.8 400.9a0.9 0.9 0 1 0 1.8 0a0.9 0.9 0 1 0 -1.8 0M67.9 408.6a0.9 0.9 0 1 0 1.8 0a0.9 0.9 0 1 0 -1.8 0M68.5 407.6a0.9 0.9 0 1 0 1.8 0a0.9 0.9 0 1 0 -1.8 0M69.8 395.6a0.9 0.9 0 1 0 1.8 0a0.9 0.9 0 1 0 -1.8 0M70.4 396.6a0.9 0.9 0 1 0 1.8 0a0.9 0.9 0 1 0 -1.8 0M71.1 398.2a0.9 0.9 0 1 0 1.8 0a0.9 0.9 0 1 0 -1.8 0M72 401.6a0.9 0.9 0 1 0 1.8 0a0.9 0.9 0 1 0 -1.8 0M72.7 410.2a0.9 0.9 0 1 0 1.8 0a0.9 0.9 0 1 0 -1.8 0M73.3 408.6a0.9 0.9 0 1 0 1.8 0a0.9 0.9 0 1 0 -1.8 0M74.1 401.6a0.9 0.9 0 1 0 1.8 0a0.9 0.9 0 1 0 -1.8 0M75 401.6a0.9 0.9 0 1 0 1.8 0a0.9 0.9 0 1 0 -1.8 0M75.6 401.8a0.9 0.9 0 1 0 1.8 0a0.9 0.9 0 1 0 -1.8 0M77.4 410a0.9 0.9 0 1 0 1.8 0a0.9 0.9 0 1 0 -1.8 0M78 406.6a0.9 0.9 0 1 0 1.8 0a0.9 0.9 0 1 0 -1.8 0M78.6 399.4a0.9 0.9 0 1 0 1.8 0a0.9 0.9 0 1 0 -1.8 0M79.4 402a0.9 0.9 0 1 0 1.8 0a0.9 0.9 0 1 0 -1.8 0M80.5 402.3a0.9 0.9 0 1 0 1.8 0a0.9 0.9 0 1 0 -1.8 0M81.6 411a0.9 0.9 0 1 0 1.8 0a0.9 0.9 0 1 0 -1.8 0M82.5 408.9a0.9 0.9 0 1 0 1.8 0a0.9 0.9 0 1 0 -1.8 0M83.4 398.3a0.9 0.9 0 1 0 1.8 0a0.9 0.9 0 1 0 -1.8 0M84.2 401.4a0.9 0.9 0 1 0 1.8 0a0.9 0.9 0 1 0 -1.8 0M85.2 400.3a0.9 0.9 0 1 0 1.8 0a0.9 0.9 0 1 0 -1.8 0M85.7 404.6a0.9 0.9 0 1 0 1.8 0a0.9 0.9 0 1 0 -1.8 0M86.8 410.6a0.9 0.9 0 1 0 1.8 0a0.9 0.9 0 1 0 -1.8 0M87.7 396a0.9 0.9 0 1 0 1.8 0a0.9 0.9 0 1 0 -1.8 0M88.3 403.3a0.9 0.9 0 1 0 1.8 0a0.9 0.9 0 1 0 -1.8 0M89.1 402.6a0.9 0.9 0 1 0 1.8 0a0.9 0.9 0 1 0 -1.8 0M89.5 400a0.9 0.9 0 1 0 1.8 0a0.9 0.9 0 1 0 -1.8 0M90.4 405.9a0.9 0.9 0 1 0 1.8 0a0.9 0.9 0 1 0 -1.8 0M91.3 409.5a0.9 0.9 0 1 0 1.8 0a0.9 0.9 0 1 0 -1.8 0M91.9 399.9a0.9 0.9 0 1 0 1.8 0a0.9 0.9 0 1 0 -1.8 0M92.8 400.7a0.9 0.9 0 1 0 1.8 0a0.9 0.9 0 1 0 -1.8 0M93.1 404.2a0.9 0.9 0 1 0 1.8 0a0.9 0.9 0 1 0 -1.8 0M94 401.6a0.9 0.9 0 1 0 1.8 0a0.9 0.9 0 1 0 -1.8 0M94.7 400.7a0.9 0.9 0 1 0 1.8 0a0.9 0.9 0 1 0 -1.8 0M95.5 410.6a0.9 0.9 0 1 0 1.8 0a0.9 0.9 0 1 0 -1.8 0M96.6 399.4a0.9 0.9 0 1 0 1.8 0a0.9 0.9 0 1 0 -1.8 0M97.3 406a0.9 0.9 0 1 0 1.8 0a0.9 0.9 0 1 0 -1.8 0M98.3 402.3a0.9 0.9 0 1 0 1.8 0a0.9 0.9 0 1 0 -1.8 0M99.1 402.9a0.9 0.9 0 1 0 1.8 0a0.9 0.9 0 1 0 -1.8 0M99.8 408.3a0.9 0.9 0 1 0 1.8 0a0.9 0.9 0 1 0 -1.8 0M100.7 409.1a0.9 0.9 0 1 0 1.8 0a0.9 0.9 0 1 0 -1.8 0M101.4 397.1a0.9 0.9 0 1 0 1.8 0a0.9 0.9 0 1 0 -1.8 0M102.4 402.3a0.9 0.9 0 1 0 1.8 0a0.9 0.9 0 1 0 -1.8 0M103.3 406a0.9 0.9 0 1 0 1.8 0a0.9 0.9 0 1 0 -1.8 0M104.3 405.7a0.9 0.9 0 1 0 1.8 0a0.9 0.9 0 1 0 -1.8 0M105.1 398.2a0.9 0.9 0 1 0 1.8 0a0.9 0.9 0 1 0 -1.8 0M105.8 401.6a0.9 0.9 0 1 0 1.8 0a0.9 0.9 0 1 0 -1.8 0M106.7 396.6a0.9 0.9 0 1 0 1.8 0a0.9 0.9 0 1 0 -1.8 0M107.5 396.9a0.9 0.9 0 1 0 1.8 0a0.9 0.9 0 1 0 -1.8 0M108.4 405.9a0.9 0.9 0 1 0 1.8 0a0.9 0.9 0 1 0 -1.8 0M106.9 400.7a0.9 0.9 0 1 0 1.8 0a0.9 0.9 0 1 0 -1.8 0M108.6 405.2a0.9 0.9 0 1 0 1.8 0a0.9 0.9 0 1 0 -1.8 0M109.8 401.8a0.9 0.9 0 1 0 1.8 0a0.9 0.9 0 1 0 -1.8 0M110.3 408.1a0.9 0.9 0 1 0 1.8 0a0.9 0.9 0 1 0 -1.8 0M111.2 393.4a0.9 0.9 0 1 0 1.8 0a0.9 0.9 0 1 0 -1.8 0M112 385.4a0.9 0.9 0 1 0 1.8 0a0.9 0.9 0 1 0 -1.8 0M112.9 390.5a0.9 0.9 0 1 0 1.8 0a0.9 0.9 0 1 0 -1.8 0M113.7 404.4a0.9 0.9 0 1 0 1.8 0a0.9 0.9 0 1 0 -1.8 0M114.2 399.3a0.9 0.9 0 1 0 1.8 0a0.9 0.9 0 1 0 -1.8 0M114.9 381a0.9 0.9 0 1 0 1.8 0a0.9 0.9 0 1 0 -1.8 0M115.9 376.5a0.9 0.9 0 1 0 1.8 0a0.9 0.9 0 1 0 -1.8 0M116.6 383.7a0.9 0.9 0 1 0 1.8 0a0.9 0.9 0 1 0 -1.8 0M117.6 391.7a0.9 0.9 0 1 0 1.8 0a0.9 0.9 0 1 0 -1.8 0M118.3 391.7a0.9 0.9 0 1 0 1.8 0a0.9 0.9 0 1 0 -1.8 0M119.3 381a0.9 0.9 0 1 0 1.8 0a0.9 0.9 0 1 0 -1.8 0M120 379.8a0.9 0.9 0 1 0 1.8 0a0.9 0.9 0 1 0 -1.8 0M121 371.9a0.9 0.9 0 1 0 1.8 0a0.9 0.9 0 1 0 -1.8 0M121.7 384.4a0.9 0.9 0 1 0 1.8 0a0.9 0.9 0 1 0 -1.8 0M122.7 394.2a0.9 0.9 0 1 0 1.8 0a0.9 0.9 0 1 0 -1.8 0M123.4 390.8a0.9 0.9 0 1 0 1.8 0a0.9 0.9 0 1 0 -1.8 0M123.9 369.7a0.9 0.9 0 1 0 1.8 0a0.9 0.9 0 1 0 -1.8 0M124.4 362.4a0.9 0.9 0 1 0 1.8 0a0.9 0.9 0 1 0 -1.8 0M125.1 354a0.9 0.9 0 1 0 1.8 0a0.9 0.9 0 1 0 -1.8 0M126.1 352.8a0.9 0.9 0 1 0 1.8 0a0.9 0.9 0 1 0 -1.8 0M126.4 370.9a0.9 0.9 0 1 0 1.8 0a0.9 0.9 0 1 0 -1.8 0M127.3 397.3a0.9 0.9 0 1 0 1.8 0a0.9 0.9 0 1 0 -1.8 0M127.8 394.6a0.9 0.9 0 1 0 1.8 0a0.9 0.9 0 1 0 -1.8 0M128.4 356.2a0.9 0.9 0 1 0 1.8 0a0.9 0.9 0 1 0 -1.8 0M128.9 360.4a0.9 0.9 0 1 0 1.8 0a0.9 0.9 0 1 0 -1.8 0M129.5 370.5a0.9 0.9 0 1 0 1.8 0a0.9 0.9 0 1 0 -1.8 0M130.1 384.4a0.9 0.9 0 1 0 1.8 0a0.9 0.9 0 1 0 -1.8 0M131.1 370.9a0.9 0.9 0 1 0 1.8 0a0.9 0.9 0 1 0 -1.8 0M131.8 393.4a0.9 0.9 0 1 0 1.8 0a0.9 0.9 0 1 0 -1.8 0M132.3 348.5a0.9 0.9 0 1 0 1.8 0a0.9 0.9 0 1 0 -1.8 0M133.2 364.1a0.9 0.9 0 1 0 1.8 0a0.9 0.9 0 1 0 -1.8 0M134 379.3a0.9 0.9 0 1 0 1.8 0a0.9 0.9 0 1 0 -1.8 0M134.9 360.4a0.9 0.9 0 1 0 1.8 0a0.9 0.9 0 1 0 -1.8 0M135.7 365.8a0.9 0.9 0 1 0 1.8 0a0.9 0.9 0 1 0 -1.8 0M136.2 386.1a0.9 0.9 0 1 0 1.8 0a0.9 0.9 0 1 0 -1.8 0M136.9 393.4a0.9 0.9 0 1 0 1.8 0a0.9 0.9 0 1 0 -1.8 0M137.4 361.7a0.9 0.9 0 1 0 1.8 0a0.9 0.9 0 1 0 -1.8 0M138.2 372.6a0.9 0.9 0 1 0 1.8 0a0.9 0.9 0 1 0 -1.8 0M139.1 385.8a0.9 0.9 0 1 0 1.8 0a0.9 0.9 0 1 0 -1.8 0M139.9 387.8a0.9 0.9 0 1 0 1.8 0a0.9 0.9 0 1 0 -1.8 0M140.3 387.6a0.9 0.9 0 1 0 1.8 0a0.9 0.9 0 1 0 -1.8 0M140.9 400.1a0.9 0.9 0 1 0 1.8 0a0.9 0.9 0 1 0 -1.8 0M141.3 395.7a0.9 0.9 0 1 0 1.8 0a0.9 0.9 0 1 0 -1.8 0M142 370a0.9 0.9 0 1 0 1.8 0a0.9 0.9 0 1 0 -1.8 0M142.8 376.6a0.9 0.9 0 1 0 1.8 0a0.9 0.9 0 1 0 -1.8 0M143.5 381a0.9 0.9 0 1 0 1.8 0a0.9 0.9 0 1 0 -1.8 0M144.2 391.8a0.9 0.9 0 1 0 1.8 0a0.9 0.9 0 1 0 -1.8 0M144.7 378.1a0.9 0.9 0 1 0 1.8 0a0.9 0.9 0 1 0 -1.8 0M145.3 408.5a0.9 0.9 0 1 0 1.8 0a0.9 0.9 0 1 0 -1.8 0M146.2 396.5a0.9 0.9 0 1 0 1.8 0a0.9 0.9 0 1 0 -1.8 0M146.7 369.3a0.9 0.9 0 1 0 1.8 0a0.9 0.9 0 1 0 -1.8 0M147.2 382.9a0.9 0.9 0 1 0 1.8 0a0.9 0.9 0 1 0 -1.8 0M147.9 377.6a0.9 0.9 0 1 0 1.8 0a0.9 0.9 0 1 0 -1.8 0M148.7 388.8a0.9 0.9 0 1 0 1.8 0a0.9 0.9 0 1 0 -1.8 0M149.1 397.6a0.9 0.9 0 1 0 1.8 0a0.9 0.9 0 1 0 -1.8 0M149.7 403.1a0.9 0.9 0 1 0 1.8 0a0.9 0.9 0 1 0 -1.8 0M150.6 406.8a0.9 0.9 0 1 0 1.8 0a0.9 0.9 0 1 0 -1.8 0M151.2 401.2a0.9 0.9 0 1 0 1.8 0a0.9 0.9 0 1 0 -1.8 0M151.6 362.6a0.9 0.9 0 1 0 1.8 0a0.9 0.9 0 1 0 -1.8 0M152 367.1a0.9 0.9 0 1 0 1.8 0a0.9 0.9 0 1 0 -1.8 0M152.6 371.2a0.9 0.9 0 1 0 1.8 0a0.9 0.9 0 1 0 -1.8 0M153.5 389.1a0.9 0.9 0 1 0 1.8 0a0.9 0.9 0 1 0 -1.8 0M154.1 409.7a0.9 0.9 0 1 0 1.8 0a0.9 0.9 0 1 0 -1.8 0M155 404.1a0.9 0.9 0 1 0 1.8 0a0.9 0.9 0 1 0 -1.8 0M156 378.1a0.9 0.9 0 1 0 1.8 0a0.9 0.9 0 1 0 -1.8 0M156.5 379.1a0.9 0.9 0 1 0 1.8 0a0.9 0.9 0 1 0 -1.8 0M157 380a0.9 0.9 0 1 0 1.8 0a0.9 0.9 0 1 0 -1.8 0M157.9 397.2a0.9 0.9 0 1 0 1.8 0a0.9 0.9 0 1 0 -1.8 0M158.5 410.4a0.9 0.9 0 1 0 1.8 0a0.9 0.9 0 1 0 -1.8 0M159.4 407.1a0.9 0.9 0 1 0 1.8 0a0.9 0.9 0 1 0 -1.8 0M160 388.8a0.9 0.9 0 1 0 1.8 0a0.9 0.9 0 1 0 -1.8 0M160.9 365.6a0.9 0.9 0 1 0 1.8 0a0.9 0.9 0 1 0 -1.8 0M161.5 371.5a0.9 0.9 0 1 0 1.8 0a0.9 0.9 0 1 0 -1.8 0M161.9 385a0.9 0.9 0 1 0 1.8 0a0.9 0.9 0 1 0 -1.8 0M162.6 387.6a0.9 0.9 0 1 0 1.8 0a0.9 0.9 0 1 0 -1.8 0M163.4 409.7a0.9 0.9 0 1 0 1.8 0a0.9 0.9 0 1 0 -1.8 0M164.1 387.6a0.9 0.9 0 1 0 1.8 0a0.9 0.9 0 1 0 -1.8 0M164.8 372.2a0.9 0.9 0 1 0 1.8 0a0.9 0.9 0 1 0 -1.8 0M165.6 382.9a0.9 0.9 0 1 0 1.8 0a0.9 0.9 0 1 0 -1.8 0M166.3 386.9a0.9 0.9 0 1 0 1.8 0a0.9 0.9 0 1 0 -1.8 0M167 395a0.9 0.9 0 1 0 1.8 0a0.9 0.9 0 1 0 -1.8 0M167.8 402.6a0.9 0.9 0 1 0 1.8 0a0.9 0.9 0 1 0 -1.8 0M168.5 400.1a0.9 0.9 0 1 0 1.8 0a0.9 0.9 0 1 0 -1.8 0M169.2 399.7a0.9 0.9 0 1 0 1.8 0a0.9 0.9 0 1 0 -1.8 0M170 380.3a0.9 0.9 0 1 0 1.8 0a0.9 0.9 0 1 0 -1.8 0M170.3 374.4a0.9 0.9 0 1 0 1.8 0a0.9 0.9 0 1 0 -1.8 0M171.2 384.7a0.9 0.9 0 1 0 1.8 0a0.9 0.9 0 1 0 -1.8 0M172.2 371.8a0.9 0.9 0 1 0 1.8 0a0.9 0.9 0 1 0 -1.8 0M172.9 400.9a0.9 0.9 0 1 0 1.8 0a0.9 0.9 0 1 0 -1.8 0M173.4 384.8a0.9 0.9 0 1 0 1.8 0a0.9 0.9 0 1 0 -1.8 0M173.9 384.8a0.9 0.9 0 1 0 1.8 0a0.9 0.9 0 1 0 -1.8 0M174.6 398.2a0.9 0.9 0 1 0 1.8 0a0.9 0.9 0 1 0 -1.8 0M175.1 379.8a0.9 0.9 0 1 0 1.8 0a0.9 0.9 0 1 0 -1.8 0M175.9 391.3a0.9 0.9 0 1 0 1.8 0a0.9 0.9 0 1 0 -1.8 0M176.7 392a0.9 0.9 0 1 0 1.8 0a0.9 0.9 0 1 0 -1.8 0M177.1 400.1a0.9 0.9 0 1 0 1.8 0a0.9 0.9 0 1 0 -1.8 0M178 392.6a0.9 0.9 0 1 0 1.8 0a0.9 0.9 0 1 0 -1.8 0M178.9 388.2a0.9 0.9 0 1 0 1.8 0a0.9 0.9 0 1 0 -1.8 0M179.6 398.6a0.9 0.9 0 1 0 1.8 0a0.9 0.9 0 1 0 -1.8 0M180.5 394.8a0.9 0.9 0 1 0 1.8 0a0.9 0.9 0 1 0 -1.8 0M181.4 409.1a0.9 0.9 0 1 0 1.8 0a0.9 0.9 0 1 0 -1.8 0M182.4 407.4a0.9 0.9 0 1 0 1.8 0a0.9 0.9 0 1 0 -1.8 0M183 399.1a0.9 0.9 0 1 0 1.8 0a0.9 0.9 0 1 0 -1.8 0M183.6 394.8a0.9 0.9 0 1 0 1.8 0a0.9 0.9 0 1 0 -1.8 0M184.3 396.1a0.9 0.9 0 1 0 1.8 0a0.9 0.9 0 1 0 -1.8 0M185.1 402.6a0.9 0.9 0 1 0 1.8 0a0.9 0.9 0 1 0 -1.8 0M185.9 405.8a0.9 0.9 0 1 0 1.8 0a0.9 0.9 0 1 0 -1.8 0M186.4 401.6a0.9 0.9 0 1 0 1.8 0a0.9 0.9 0 1 0 -1.8 0M187.1 404.5a0.9 0.9 0 1 0 1.8 0a0.9 0.9 0 1 0 -1.8 0M188 403.6a0.9 0.9 0 1 0 1.8 0a0.9 0.9 0 1 0 -1.8 0M188.6 399.9a0.9 0.9 0 1 0 1.8 0a0.9 0.9 0 1 0 -1.8 0M189.6 392.3a0.9 0.9 0 1 0 1.8 0a0.9 0.9 0 1 0 -1.8 0M190.1 407a0.9 0.9 0 1 0 1.8 0a0.9 0.9 0 1 0 -1.8 0M190.9 399.1a0.9 0.9 0 1 0 1.8 0a0.9 0.9 0 1 0 -1.8 0M191.4 398.2a0.9 0.9 0 1 0 1.8 0a0.9 0.9 0 1 0 -1.8 0M192.2 396.1a0.9 0.9 0 1 0 1.8 0a0.9 0.9 0 1 0 -1.8 0M193 395.4a0.9 0.9 0 1 0 1.8 0a0.9 0.9 0 1 0 -1.8 0M193.7 401.6a0.9 0.9 0 1 0 1.8 0a0.9 0.9 0 1 0 -1.8 0M194.7 405.4a0.9 0.9 0 1 0 1.8 0a0.9 0.9 0 1 0 -1.8 0M195.5 402.9a0.9 0.9 0 1 0 1.8 0a0.9 0.9 0 1 0 -1.8 0M196.4 392.3a0.9 0.9 0 1 0 1.8 0a0.9 0.9 0 1 0 -1.8 0M197.2 393.6a0.9 0.9 0 1 0 1.8 0a0.9 0.9 0 1 0 -1.8 0M198 394.1a0.9 0.9 0 1 0 1.8 0a0.9 0.9 0 1 0 -1.8 0M198.9 402.9a0.9 0.9 0 1 0 1.8 0a0.9 0.9 0 1 0 -1.8 0M199.7 398.2a0.9 0.9 0 1 0 1.8 0a0.9 0.9 0 1 0 -1.8 0M200.5 390.7a0.9 0.9 0 1 0 1.8 0a0.9 0.9 0 1 0 -1.8 0M201.4 389.5a0.9 0.9 0 1 0 1.8 0a0.9 0.9 0 1 0 -1.8 0M202.4 387.8a0.9 0.9 0 1 0 1.8 0a0.9 0.9 0 1 0 -1.8 0M203.4 399.1a0.9 0.9 0 1 0 1.8 0a0.9 0.9 0 1 0 -1.8 0M204.3 389.8a0.9 0.9 0 1 0 1.8 0a0.9 0.9 0 1 0 -1.8 0M205.2 388.6a0.9 0.9 0 1 0 1.8 0a0.9 0.9 0 1 0 -1.8 0M202 412a0.9 0.9 0 1 0 1.8 0a0.9 0.9 0 1 0 -1.8 0M220.6 412a0.9 0.9 0 1 0 1.8 0a0.9 0.9 0 1 0 -1.8 0M225.3 412a0.9 0.9 0 1 0 1.8 0a0.9 0.9 0 1 0 -1.8 0M203.9 398.9a0.9 0.9 0 1 0 1.8 0a0.9 0.9 0 1 0 -1.8 0M205 390.3a0.9 0.9 0 1 0 1.8 0a0.9 0.9 0 1 0 -1.8 0M205.9 389.4a0.9 0.9 0 1 0 1.8 0a0.9 0.9 0 1 0 -1.8 0M207.1 387.5a0.9 0.9 0 1 0 1.8 0a0.9 0.9 0 1 0 -1.8 0M207.8 385.1a0.9 0.9 0 1 0 1.8 0a0.9 0.9 0 1 0 -1.8 0M209.1 389.8a0.9 0.9 0 1 0 1.8 0a0.9 0.9 0 1 0 -1.8 0M209.7 392.2a0.9 0.9 0 1 0 1.8 0a0.9 0.9 0 1 0 -1.8 0M210.7 382.4a0.9 0.9 0 1 0 1.8 0a0.9 0.9 0 1 0 -1.8 0M211.3 394.1a0.9 0.9 0 1 0 1.8 0a0.9 0.9 0 1 0 -1.8 0M212.3 395.4a0.9 0.9 0 1 0 1.8 0a0.9 0.9 0 1 0 -1.8 0M212.9 383a0.9 0.9 0 1 0 1.8 0a0.9 0.9 0 1 0 -1.8 0M213.9 381.5a0.9 0.9 0 1 0 1.8 0a0.9 0.9 0 1 0 -1.8 0M214.5 394.6a0.9 0.9 0 1 0 1.8 0a0.9 0.9 0 1 0 -1.8 0M215.4 388.3a0.9 0.9 0 1 0 1.8 0a0.9 0.9 0 1 0 -1.8 0M216.1 390.3a0.9 0.9 0 1 0 1.8 0a0.9 0.9 0 1 0 -1.8 0M217 389.4a0.9 0.9 0 1 0 1.8 0a0.9 0.9 0 1 0 -1.8 0M217.7 395.4a0.9 0.9 0 1 0 1.8 0a0.9 0.9 0 1 0 -1.8 0M218.6 395.7a0.9 0.9 0 1 0 1.8 0a0.9 0.9 0 1 0 -1.8 0M219.2 385.9a0.9 0.9 0 1 0 1.8 0a0.9 0.9 0 1 0 -1.8 0M220.2 384.6a0.9 0.9 0 1 0 1.8 0a0.9 0.9 0 1 0 -1.8 0M221.3 380.8a0.9 0.9 0 1 0 1.8 0a0.9 0.9 0 1 0 -1.8 0M222.1 395.1a0.9 0.9 0 1 0 1.8 0a0.9 0.9 0 1 0 -1.8 0M222.9 389.4a0.9 0.9 0 1 0 1.8 0a0.9 0.9 0 1 0 -1.8 0M223.7 381.5a0.9 0.9 0 1 0 1.8 0a0.9 0.9 0 1 0 -1.8 0M224.5 383a0.9 0.9 0 1 0 1.8 0a0.9 0.9 0 1 0 -1.8 0M225.3 362.5a0.9 0.9 0 1 0 1.8 0a0.9 0.9 0 1 0 -1.8 0M226 390.3a0.9 0.9 0 1 0 1.8 0a0.9 0.9 0 1 0 -1.8 0M226.8 389.4a0.9 0.9 0 1 0 1.8 0a0.9 0.9 0 1 0 -1.8 0M227.6 383a0.9 0.9 0 1 0 1.8 0a0.9 0.9 0 1 0 -1.8 0M228.4 382.4a0.9 0.9 0 1 0 1.8 0a0.9 0.9 0 1 0 -1.8 0M229.2 374a0.9 0.9 0 1 0 1.8 0a0.9 0.9 0 1 0 -1.8 0M229.7 369.3a0.9 0.9 0 1 0 1.8 0a0.9 0.9 0 1 0 -1.8 0M230.3 380.8a0.9 0.9 0 1 0 1.8 0a0.9 0.9 0 1 0 -1.8 0M231.3 387.5a0.9 0.9 0 1 0 1.8 0a0.9 0.9 0 1 0 -1.8 0M231.9 375.1a0.9 0.9 0 1 0 1.8 0a0.9 0.9 0 1 0 -1.8 0M232.8 373.5a0.9 0.9 0 1 0 1.8 0a0.9 0.9 0 1 0 -1.8 0M233.5 362.5a0.9 0.9 0 1 0 1.8 0a0.9 0.9 0 1 0 -1.8 0M234 369.3a0.9 0.9 0 1 0 1.8 0a0.9 0.9 0 1 0 -1.8 0M234.7 365a0.9 0.9 0 1 0 1.8 0a0.9 0.9 0 1 0 -1.8 0M235.5 381.5a0.9 0.9 0 1 0 1.8 0a0.9 0.9 0 1 0 -1.8 0M236.3 380.3a0.9 0.9 0 1 0 1.8 0a0.9 0.9 0 1 0 -1.8 0M237.1 376.7a0.9 0.9 0 1 0 1.8 0a0.9 0.9 0 1 0 -1.8 0M238.2 349.8a0.9 0.9 0 1 0 1.8 0a0.9 0.9 0 1 0 -1.8 0M239.2 377.7a0.9 0.9 0 1 0 1.8 0a0.9 0.9 0 1 0 -1.8 0M239.8 383a0.9 0.9 0 1 0 1.8 0a0.9 0.9 0 1 0 -1.8 0" fill="#151515"/>
<path d="M241.6 319.2V414.5" stroke="#6262ff" stroke-width="1.7" stroke-dasharray="1.3 0.85" fill="none"/>
<path d="M241.3 360.3a0.9 0.9 0 1 0 1.8 0a0.9 0.9 0 1 0 -1.8 0M242.5 363a0.9 0.9 0 1 0 1.8 0a0.9 0.9 0 1 0 -1.8 0M242.7 366a0.9 0.9 0 1 0 1.8 0a0.9 0.9 0 1 0 -1.8 0M241.1 375.6a0.9 0.9 0 1 0 1.8 0a0.9 0.9 0 1 0 -1.8 0M243.4 385.6a0.9 0.9 0 1 0 1.8 0a0.9 0.9 0 1 0 -1.8 0M243.9 387.5a0.9 0.9 0 1 0 1.8 0a0.9 0.9 0 1 0 -1.8 0M243 374a0.9 0.9 0 1 0 1.8 0a0.9 0.9 0 1 0 -1.8 0" fill="#2a9d2a"/>
<rect x="33.6" y="314.5" width="222.2" height="104.1" fill="none" stroke="#cccccc" stroke-width="1"/>
<path d="M322.3 412.1H544.5M322.3 392.8H544.5M322.3 373.5H544.5M322.3 354.2H544.5M322.3 334.9H544.5M322.3 315.6H544.5M327.6 314.5V418.5M350.19 314.5V418.5M372.78 314.5V418.5M395.37 314.5V418.5M417.96 314.5V418.5M440.55 314.5V418.5M463.14 314.5V418.5M485.73 314.5V418.5M508.32 314.5V418.5M530.91 314.5V418.5" stroke="#ebebeb" stroke-width="0.8" fill="none"/>
<path d="M332 403.8C332.75 403.43 335 402.35 336.5 401.6C338 400.85 339.52 399.98 341 399.3C342.48 398.62 343.92 398.05 345.4 397.5C346.88 396.95 348.4 396.5 349.9 396C351.4 395.5 352.9 394.82 354.4 394.5C355.9 394.18 357.4 394.1 358.9 394.1C360.4 394.1 361.9 394.25 363.4 394.5C364.9 394.75 366.42 395.17 367.9 395.6C369.38 396.03 370.82 396.6 372.3 397.1C373.78 397.6 375.3 398.1 376.8 398.6C378.3 399.1 379.8 399.6 381.3 400.1C382.8 400.6 384.3 401.23 385.8 401.6C387.3 401.97 388.8 402.3 390.3 402.3C391.8 402.3 393.52 401.88 394.8 401.6C396.08 401.32 396.73 401.22 398 400.6C399.27 399.98 400.95 398.9 402.4 397.9C403.85 396.9 405.25 395.78 406.7 394.6C408.15 393.42 409.65 391.98 411.1 390.8C412.55 389.62 413.95 388.5 415.4 387.5C416.85 386.5 418.33 385.47 419.8 384.8C421.27 384.13 422.75 383.77 424.2 383.5C425.65 383.23 427.05 383.17 428.5 383.2C429.95 383.23 431.43 383.4 432.9 383.7C434.37 384 435.85 384.45 437.3 385C438.75 385.55 440.15 386.3 441.6 387C443.05 387.7 444.55 388.47 446 389.2C447.45 389.93 448.85 390.77 450.3 391.4C451.75 392.03 453.42 392.6 454.7 393C455.98 393.4 457.07 393.55 458 393.8C458.93 394.05 459.17 394.45 460.3 394.5C461.43 394.55 463.3 394.3 464.8 394.1C466.3 393.9 467.43 393.6 469.3 393.3C471.17 393 473.92 392.47 476 392.3C478.08 392.13 479.87 392.43 481.8 392.3C483.73 392.17 485.67 391.83 487.6 391.5C489.53 391.17 491.47 391.03 493.4 390.3C495.33 389.57 497.27 388.28 499.2 387.1C501.13 385.92 503.07 384.4 505 383.2C506.93 382 508.87 381.18 510.8 379.9C512.73 378.62 514.67 377.2 516.6 375.5C518.53 373.8 520.78 371.48 522.4 369.7C524.02 367.92 525 366.1 526.3 364.8C527.6 363.5 528.92 362.7 530.2 361.9C531.48 361.1 533.37 360.32 534 360L534 407C530.78 407.07 521.15 407.18 514.7 407.4C508.25 407.62 501.75 408.03 495.3 408.3C488.85 408.57 491.55 408.5 476 409C460.45 409.5 426 410.83 402 411.3C378 411.77 343.67 411.72 332 411.8Z" fill="#dd8d51" fill-opacity="0.35"/>
<path d="M332 409.8C333 409.42 336.02 408.05 338 407.5C339.98 406.95 341.92 406.73 343.9 406.5C345.88 406.27 347.9 406.3 349.9 406.1C351.9 405.9 353.9 405.38 355.9 405.3C357.9 405.22 359.9 405.4 361.9 405.6C363.9 405.8 365.92 406.25 367.9 406.5C369.88 406.75 371.82 406.93 373.8 407.1C375.78 407.27 377.8 407.43 379.8 407.5C381.8 407.57 383.8 407.42 385.8 407.5C387.8 407.58 389.82 408 391.8 408C393.78 408 396 407.75 397.7 407.5C399.4 407.25 400.28 406.98 402 406.5C403.72 406.02 406 405.25 408 404.6C410 403.95 412.02 403.1 414 402.6C415.98 402.1 417.92 401.9 419.9 401.6C421.88 401.3 423.9 400.93 425.9 400.8C427.9 400.67 429.9 400.67 431.9 400.8C433.9 400.93 435.9 401.22 437.9 401.6C439.9 401.98 441.92 402.6 443.9 403.1C445.88 403.6 447.82 404.18 449.8 404.6C451.78 405.02 453.8 405.35 455.8 405.6C457.8 405.85 459.8 406.02 461.8 406.1C463.8 406.18 465.43 406.42 467.8 406.1C470.17 405.78 473.35 404.57 476 404.2C478.65 403.83 481.12 403.85 483.7 403.9C486.28 403.95 488.92 404.73 491.5 404.5C494.08 404.27 496.62 403.15 499.2 402.5C501.78 401.85 504.42 401.33 507 400.6C509.58 399.87 512.13 398.97 514.7 398.1C517.27 397.23 520.15 396.18 522.4 395.4C524.65 394.62 526.27 393.98 528.2 393.4C530.13 392.82 533.03 392.15 534 391.9" stroke="#e6772b" stroke-width="1.05" fill="none" stroke-linecap="round"/>
<path d="M331.5 412.3a0.9 0.9 0 1 0 1.8 0a0.9 0.9 0 1 0 -1.8 0M332.2 410.8a0.9 0.9 0 1 0 1.8 0a0.9 0.9 0 1 0 -1.8 0M333 410.6a0.9 0.9 0 1 0 1.8 0a0.9 0.9 0 1 0 -1.8 0M334.1 410.6a0.9 0.9 0 1 0 1.8 0a0.9 0.9 0 1 0 -1.8 0M335 410.8a0.9 0.9 0 1 0 1.8 0a0.9 0.9 0 1 0 -1.8 0M336 407.2a0.9 0.9 0 1 0 1.8 0a0.9 0.9 0 1 0 -1.8 0M336.9 407.2a0.9 0.9 0 1 0 1.8 0a0.9 0.9 0 1 0 -1.8 0M338 408.7a0.9 0.9 0 1 0 1.8 0a0.9 0.9 0 1 0 -1.8 0M339 409.5a0.9 0.9 0 1 0 1.8 0a0.9 0.9 0 1 0 -1.8 0M339.6 409.8a0.9 0.9 0 1 0 1.8 0a0.9 0.9 0 1 0 -1.8 0M340.4 393a0.9 0.9 0 1 0 1.8 0a0.9 0.9 0 1 0 -1.8 0M340.7 405.9a0.9 0.9 0 1 0 1.8 0a0.9 0.9 0 1 0 -1.8 0M341.7 405.3a0.9 0.9 0 1 0 1.8 0a0.9 0.9 0 1 0 -1.8 0M342.6 405.3a0.9 0.9 0 1 0 1.8 0a0.9 0.9 0 1 0 -1.8 0M343 409.3a0.9 0.9 0 1 0 1.8 0a0.9 0.9 0 1 0 -1.8 0M343.7 411a0.9 0.9 0 1 0 1.8 0a0.9 0.9 0 1 0 -1.8 0M344.4 400.6a0.9 0.9 0 1 0 1.8 0a0.9 0.9 0 1 0 -1.8 0M345.2 400.4a0.9 0.9 0 1 0 1.8 0a0.9 0.9 0 1 0 -1.8 0M345.8 405.7a0.9 0.9 0 1 0 1.8 0a0.9 0.9 0 1 0 -1.8 0M346.2 400a0.9 0.9 0 1 0 1.8 0a0.9 0.9 0 1 0 -1.8 0M346.8 405.5a0.9 0.9 0 1 0 1.8 0a0.9 0.9 0 1 0 -1.8 0M347.6 408.7a0.9 0.9 0 1 0 1.8 0a0.9 0.9 0 1 0 -1.8 0M348.2 409.1a0.9 0.9 0 1 0 1.8 0a0.9 0.9 0 1 0 -1.8 0M349 395.2a0.9 0.9 0 1 0 1.8 0a0.9 0.9 0 1 0 -1.8 0M349.4 407.4a0.9 0.9 0 1 0 1.8 0a0.9 0.9 0 1 0 -1.8 0M350 402.3a0.9 0.9 0 1 0 1.8 0a0.9 0.9 0 1 0 -1.8 0M351.1 408.2a0.9 0.9 0 1 0 1.8 0a0.9 0.9 0 1 0 -1.8 0M352.2 410.2a0.9 0.9 0 1 0 1.8 0a0.9 0.9 0 1 0 -1.8 0M352.8 410.4a0.9 0.9 0 1 0 1.8 0a0.9 0.9 0 1 0 -1.8 0M353.3 396.8a0.9 0.9 0 1 0 1.8 0a0.9 0.9 0 1 0 -1.8 0M354.1 404a0.9 0.9 0 1 0 1.8 0a0.9 0.9 0 1 0 -1.8 0M354.6 399.3a0.9 0.9 0 1 0 1.8 0a0.9 0.9 0 1 0 -1.8 0M355.2 406.1a0.9 0.9 0 1 0 1.8 0a0.9 0.9 0 1 0 -1.8 0M356.8 410.6a0.9 0.9 0 1 0 1.8 0a0.9 0.9 0 1 0 -1.8 0M357.6 400.3a0.9 0.9 0 1 0 1.8 0a0.9 0.9 0 1 0 -1.8 0M358.4 402.2a0.9 0.9 0 1 0 1.8 0a0.9 0.9 0 1 0 -1.8 0M359.5 407a0.9 0.9 0 1 0 1.8 0a0.9 0.9 0 1 0 -1.8 0M360.4 403.6a0.9 0.9 0 1 0 1.8 0a0.9 0.9 0 1 0 -1.8 0M361.5 411.4a0.9 0.9 0 1 0 1.8 0a0.9 0.9 0 1 0 -1.8 0M362.2 404.4a0.9 0.9 0 1 0 1.8 0a0.9 0.9 0 1 0 -1.8 0M363.2 401.7a0.9 0.9 0 1 0 1.8 0a0.9 0.9 0 1 0 -1.8 0M363.5 408.7a0.9 0.9 0 1 0 1.8 0a0.9 0.9 0 1 0 -1.8 0M364.3 407a0.9 0.9 0 1 0 1.8 0a0.9 0.9 0 1 0 -1.8 0M365.2 403.8a0.9 0.9 0 1 0 1.8 0a0.9 0.9 0 1 0 -1.8 0M366 410.2a0.9 0.9 0 1 0 1.8 0a0.9 0.9 0 1 0 -1.8 0M366.7 404.4a0.9 0.9 0 1 0 1.8 0a0.9 0.9 0 1 0 -1.8 0M367.8 407a0.9 0.9 0 1 0 1.8 0a0.9 0.9 0 1 0 -1.8 0M369 397.1a0.9 0.9 0 1 0 1.8 0a0.9 0.9 0 1 0 -1.8 0M369.6 405.7a0.9 0.9 0 1 0 1.8 0a0.9 0.9 0 1 0 -1.8 0M370.4 410.2a0.9 0.9 0 1 0 1.8 0a0.9 0.9 0 1 0 -1.8 0M371.1 411.1a0.9 0.9 0 1 0 1.8 0a0.9 0.9 0 1 0 -1.8 0M371.8 408.4a0.9 0.9 0 1 0 1.8 0a0.9 0.9 0 1 0 -1.8 0M372.3 402.5a0.9 0.9 0 1 0 1.8 0a0.9 0.9 0 1 0 -1.8 0M373.1 405.1a0.9 0.9 0 1 0 1.8 0a0.9 0.9 0 1 0 -1.8 0M374.1 409.1a0.9 0.9 0 1 0 1.8 0a0.9 0.9 0 1 0 -1.8 0M374.8 403.6a0.9 0.9 0 1 0 1.8 0a0.9 0.9 0 1 0 -1.8 0M376 403.6a0.9 0.9 0 1 0 1.8 0a0.9 0.9 0 1 0 -1.8 0M376.7 410.5a0.9 0.9 0 1 0 1.8 0a0.9 0.9 0 1 0 -1.8 0M377.7 407.3a0.9 0.9 0 1 0 1.8 0a0.9 0.9 0 1 0 -1.8 0M378.8 411.1a0.9 0.9 0 1 0 1.8 0a0.9 0.9 0 1 0 -1.8 0M379.9 411.8a0.9 0.9 0 1 0 1.8 0a0.9 0.9 0 1 0 -1.8 0M380.7 406.7a0.9 0.9 0 1 0 1.8 0a0.9 0.9 0 1 0 -1.8 0M381.2 397.2a0.9 0.9 0 1 0 1.8 0a0.9 0.9 0 1 0 -1.8 0M382 403.6a0.9 0.9 0 1 0 1.8 0a0.9 0.9 0 1 0 -1.8 0M383.1 403.6a0.9 0.9 0 1 0 1.8 0a0.9 0.9 0 1 0 -1.8 0M383.9 407a0.9 0.9 0 1 0 1.8 0a0.9 0.9 0 1 0 -1.8 0M384.5 411.2a0.9 0.9 0 1 0 1.8 0a0.9 0.9 0 1 0 -1.8 0M385.3 403.5a0.9 0.9 0 1 0 1.8 0a0.9 0.9 0 1 0 -1.8 0M385.8 405.1a0.9 0.9 0 1 0 1.8 0a0.9 0.9 0 1 0 -1.8 0M386.6 403.6a0.9 0.9 0 1 0 1.8 0a0.9 0.9 0 1 0 -1.8 0M387.5 406.5a0.9 0.9 0 1 0 1.8 0a0.9 0.9 0 1 0 -1.8 0M388.3 411.1a0.9 0.9 0 1 0 1.8 0a0.9 0.9 0 1 0 -1.8 0M389.2 411.6a0.9 0.9 0 1 0 1.8 0a0.9 0.9 0 1 0 -1.8 0M390.1 411.8a0.9 0.9 0 1 0 1.8 0a0.9 0.9 0 1 0 -1.8 0M390.9 403.2a0.9 0.9 0 1 0 1.8 0a0.9 0.9 0 1 0 -1.8 0M391.5 411.1a0.9 0.9 0 1 0 1.8 0a0.9 0.9 0 1 0 -1.8 0M392.2 407.4a0.9 0.9 0 1 0 1.8 0a0.9 0.9 0 1 0 -1.8 0M393 411.1a0.9 0.9 0 1 0 1.8 0a0.9 0.9 0 1 0 -1.8 0M393.9 411.1a0.9 0.9 0 1 0 1.8 0a0.9 0.9 0 1 0 -1.8 0M395.1 407.9a0.9 0.9 0 1 0 1.8 0a0.9 0.9 0 1 0 -1.8 0M395.9 411.1a0.9 0.9 0 1 0 1.8 0a0.9 0.9 0 1 0 -1.8 0M396.8 407.6a0.9 0.9 0 1 0 1.8 0a0.9 0.9 0 1 0 -1.8 0M397.2 411.2a0.9 0.9 0 1 0 1.8 0a0.9 0.9 0 1 0 -1.8 0M398.1 412.5a0.9 0.9 0 1 0 1.8 0a0.9 0.9 0 1 0 -1.8 0M399.2 408.6a0.9 0.9 0 1 0 1.8 0a0.9 0.9 0 1 0 -1.8 0M400.3 410.8a0.9 0.9 0 1 0 1.8 0a0.9 0.9 0 1 0 -1.8 0M401.2 405.8a0.9 0.9 0 1 0 1.8 0a0.9 0.9 0 1 0 -1.8 0M402 411a0.9 0.9 0 1 0 1.8 0a0.9 0.9 0 1 0 -1.8 0M403.2 407.3a0.9 0.9 0 1 0 1.8 0a0.9 0.9 0 1 0 -1.8 0M403.9 406a0.9 0.9 0 1 0 1.8 0a0.9 0.9 0 1 0 -1.8 0M404.7 405a0.9 0.9 0 1 0 1.8 0a0.9 0.9 0 1 0 -1.8 0M405.2 409.5a0.9 0.9 0 1 0 1.8 0a0.9 0.9 0 1 0 -1.8 0M406.2 407.1a0.9 0.9 0 1 0 1.8 0a0.9 0.9 0 1 0 -1.8 0M407.1 411.8a0.9 0.9 0 1 0 1.8 0a0.9 0.9 0 1 0 -1.8 0M408.4 397.3a0.9 0.9 0 1 0 1.8 0a0.9 0.9 0 1 0 -1.8 0M409.4 396.8a0.9 0.9 0 1 0 1.8 0a0.9 0.9 0 1 0 -1.8 0M409.9 407.3a0.9 0.9 0 1 0 1.8 0a0.9 0.9 0 1 0 -1.8 0M410.8 402.3a0.9 0.9 0 1 0 1.8 0a0.9 0.9 0 1 0 -1.8 0M411.7 410.8a0.9 0.9 0 1 0 1.8 0a0.9 0.9 0 1 0 -1.8 0M412.4 402.3a0.9 0.9 0 1 0 1.8 0a0.9 0.9 0 1 0 -1.8 0M413.2 401.7a0.9 0.9 0 1 0 1.8 0a0.9 0.9 0 1 0 -1.8 0M413.9 396.6a0.9 0.9 0 1 0 1.8 0a0.9 0.9 0 1 0 -1.8 0M414.5 406.9a0.9 0.9 0 1 0 1.8 0a0.9 0.9 0 1 0 -1.8 0M415.1 397.8a0.9 0.9 0 1 0 1.8 0a0.9 0.9 0 1 0 -1.8 0M416.2 409.5a0.9 0.9 0 1 0 1.8 0a0.9 0.9 0 1 0 -1.8 0M416.9 411.8a0.9 0.9 0 1 0 1.8 0a0.9 0.9 0 1 0 -1.8 0M417.5 397a0.9 0.9 0 1 0 1.8 0a0.9 0.9 0 1 0 -1.8 0M417.9 400a0.9 0.9 0 1 0 1.8 0a0.9 0.9 0 1 0 -1.8 0M418.9 404.1a0.9 0.9 0 1 0 1.8 0a0.9 0.9 0 1 0 -1.8 0M419.4 394.6a0.9 0.9 0 1 0 1.8 0a0.9 0.9 0 1 0 -1.8 0M420.1 399.1a0.9 0.9 0 1 0 1.8 0a0.9 0.9 0 1 0 -1.8 0M420.9 409.7a0.9 0.9 0 1 0 1.8 0a0.9 0.9 0 1 0 -1.8 0M421.6 406.3a0.9 0.9 0 1 0 1.8 0a0.9 0.9 0 1 0 -1.8 0M422 388.6a0.9 0.9 0 1 0 1.8 0a0.9 0.9 0 1 0 -1.8 0M422.6 391.8a0.9 0.9 0 1 0 1.8 0a0.9 0.9 0 1 0 -1.8 0M423.4 396.3a0.9 0.9 0 1 0 1.8 0a0.9 0.9 0 1 0 -1.8 0M424.4 405.4a0.9 0.9 0 1 0 1.8 0a0.9 0.9 0 1 0 -1.8 0M424.8 393.6a0.9 0.9 0 1 0 1.8 0a0.9 0.9 0 1 0 -1.8 0M425.6 406.8a0.9 0.9 0 1 0 1.8 0a0.9 0.9 0 1 0 -1.8 0M426.5 399.3a0.9 0.9 0 1 0 1.8 0a0.9 0.9 0 1 0 -1.8 0M427.4 401.8a0.9 0.9 0 1 0 1.8 0a0.9 0.9 0 1 0 -1.8 0M428.6 394.1a0.9 0.9 0 1 0 1.8 0a0.9 0.9 0 1 0 -1.8 0M429.5 404.6a0.9 0.9 0 1 0 1.8 0a0.9 0.9 0 1 0 -1.8 0M430.3 407.5a0.9 0.9 0 1 0 1.8 0a0.9 0.9 0 1 0 -1.8 0M430.9 391.8a0.9 0.9 0 1 0 1.8 0a0.9 0.9 0 1 0 -1.8 0M431.7 402.8a0.9 0.9 0 1 0 1.8 0a0.9 0.9 0 1 0 -1.8 0M432.4 396.6a0.9 0.9 0 1 0 1.8 0a0.9 0.9 0 1 0 -1.8 0M433.3 397.3a0.9 0.9 0 1 0 1.8 0a0.9 0.9 0 1 0 -1.8 0M433.9 391.8a0.9 0.9 0 1 0 1.8 0a0.9 0.9 0 1 0 -1.8 0M434.7 406.5a0.9 0.9 0 1 0 1.8 0a0.9 0.9 0 1 0 -1.8 0M435.4 393.3a0.9 0.9 0 1 0 1.8 0a0.9 0.9 0 1 0 -1.8 0M436.2 400a0.9 0.9 0 1 0 1.8 0a0.9 0.9 0 1 0 -1.8 0M436.9 398.3a0.9 0.9 0 1 0 1.8 0a0.9 0.9 0 1 0 -1.8 0M437.7 400.3a0.9 0.9 0 1 0 1.8 0a0.9 0.9 0 1 0 -1.8 0M438.2 403.3a0.9 0.9 0 1 0 1.8 0a0.9 0.9 0 1 0 -1.8 0M438.9 400.3a0.9 0.9 0 1 0 1.8 0a0.9 0.9 0 1 0 -1.8 0M439.5 410.8a0.9 0.9 0 1 0 1.8 0a0.9 0.9 0 1 0 -1.8 0M439.9 407.3a0.9 0.9 0 1 0 1.8 0a0.9 0.9 0 1 0 -1.8 0M440.7 401.1a0.9 0.9 0 1 0 1.8 0a0.9 0.9 0 1 0 -1.8 0M441.4 397.6a0.9 0.9 0 1 0 1.8 0a0.9 0.9 0 1 0 -1.8 0M442.2 404.1a0.9 0.9 0 1 0 1.8 0a0.9 0.9 0 1 0 -1.8 0M443.8 408.3a0.9 0.9 0 1 0 1.8 0a0.9 0.9 0 1 0 -1.8 0M444.7 408a0.9 0.9 0 1 0 1.8 0a0.9 0.9 0 1 0 -1.8 0M445.7 401.5a0.9 0.9 0 1 0 1.8 0a0.9 0.9 0 1 0 -1.8 0M446.4 400.3a0.9 0.9 0 1 0 1.8 0a0.9 0.9 0 1 0 -1.8 0M447.4 399.6a0.9 0.9 0 1 0 1.8 0a0.9 0.9 0 1 0 -1.8 0M448.1 411.8a0.9 0.9 0 1 0 1.8 0a0.9 0.9 0 1 0 -1.8 0M449 398.7a0.9 0.9 0 1 0 1.8 0a0.9 0.9 0 1 0 -1.8 0M449.8 393.6a0.9 0.9 0 1 0 1.8 0a0.9 0.9 0 1 0 -1.8 0M450.4 403.3a0.9 0.9 0 1 0 1.8 0a0.9 0.9 0 1 0 -1.8 0M451.1 401.1a0.9 0.9 0 1 0 1.8 0a0.9 0.9 0 1 0 -1.8 0M452.8 406.5a0.9 0.9 0 1 0 1.8 0a0.9 0.9 0 1 0 -1.8 0M453.4 409.3a0.9 0.9 0 1 0 1.8 0a0.9 0.9 0 1 0 -1.8 0M454.1 405.6a0.9 0.9 0 1 0 1.8 0a0.9 0.9 0 1 0 -1.8 0M455.2 403.8a0.9 0.9 0 1 0 1.8 0a0.9 0.9 0 1 0 -1.8 0M456.1 406.8a0.9 0.9 0 1 0 1.8 0a0.9 0.9 0 1 0 -1.8 0M457.4 406.5a0.9 0.9 0 1 0 1.8 0a0.9 0.9 0 1 0 -1.8 0M458.7 406.2a0.9 0.9 0 1 0 1.8 0a0.9 0.9 0 1 0 -1.8 0M459.9 401.7a0.9 0.9 0 1 0 1.8 0a0.9 0.9 0 1 0 -1.8 0M460.8 403.8a0.9 0.9 0 1 0 1.8 0a0.9 0.9 0 1 0 -1.8 0M461.9 408a0.9 0.9 0 1 0 1.8 0a0.9 0.9 0 1 0 -1.8 0M462.6 408.8a0.9 0.9 0 1 0 1.8 0a0.9 0.9 0 1 0 -1.8 0M463.2 408.4a0.9 0.9 0 1 0 1.8 0a0.9 0.9 0 1 0 -1.8 0M464.5 399.9a0.9 0.9 0 1 0 1.8 0a0.9 0.9 0 1 0 -1.8 0M465.2 402.3a0.9 0.9 0 1 0 1.8 0a0.9 0.9 0 1 0 -1.8 0M465.8 407.4a0.9 0.9 0 1 0 1.8 0a0.9 0.9 0 1 0 -1.8 0M466.7 408.9a0.9 0.9 0 1 0 1.8 0a0.9 0.9 0 1 0 -1.8 0M467.5 406.3a0.9 0.9 0 1 0 1.8 0a0.9 0.9 0 1 0 -1.8 0M468.4 406.9a0.9 0.9 0 1 0 1.8 0a0.9 0.9 0 1 0 -1.8 0M469.5 404.2a0.9 0.9 0 1 0 1.8 0a0.9 0.9 0 1 0 -1.8 0M470.4 412a0.9 0.9 0 1 0 1.8 0a0.9 0.9 0 1 0 -1.8 0M471.2 408.6a0.9 0.9 0 1 0 1.8 0a0.9 0.9 0 1 0 -1.8 0M472.1 406a0.9 0.9 0 1 0 1.8 0a0.9 0.9 0 1 0 -1.8 0M472.9 403.1a0.9 0.9 0 1 0 1.8 0a0.9 0.9 0 1 0 -1.8 0M473.8 406.3a0.9 0.9 0 1 0 1.8 0a0.9 0.9 0 1 0 -1.8 0M474.8 412a0.9 0.9 0 1 0 1.8 0a0.9 0.9 0 1 0 -1.8 0M475.5 407.8a0.9 0.9 0 1 0 1.8 0a0.9 0.9 0 1 0 -1.8 0M476.4 403.7a0.9 0.9 0 1 0 1.8 0a0.9 0.9 0 1 0 -1.8 0M477.4 401.6a0.9 0.9 0 1 0 1.8 0a0.9 0.9 0 1 0 -1.8 0M478.1 406.3a0.9 0.9 0 1 0 1.8 0a0.9 0.9 0 1 0 -1.8 0M479.3 412a0.9 0.9 0 1 0 1.8 0a0.9 0.9 0 1 0 -1.8 0M480.1 406.6a0.9 0.9 0 1 0 1.8 0a0.9 0.9 0 1 0 -1.8 0M480.8 402.3a0.9 0.9 0 1 0 1.8 0a0.9 0.9 0 1 0 -1.8 0M481.7 397.5a0.9 0.9 0 1 0 1.8 0a0.9 0.9 0 1 0 -1.8 0M482.5 407.4a0.9 0.9 0 1 0 1.8 0a0.9 0.9 0 1 0 -1.8 0M483.4 402.3a0.9 0.9 0 1 0 1.8 0a0.9 0.9 0 1 0 -1.8 0M484.1 412a0.9 0.9 0 1 0 1.8 0a0.9 0.9 0 1 0 -1.8 0M484.7 410.2a0.9 0.9 0 1 0 1.8 0a0.9 0.9 0 1 0 -1.8 0M486 401.2a0.9 0.9 0 1 0 1.8 0a0.9 0.9 0 1 0 -1.8 0M486.8 404.6a0.9 0.9 0 1 0 1.8 0a0.9 0.9 0 1 0 -1.8 0M488.1 405.2a0.9 0.9 0 1 0 1.8 0a0.9 0.9 0 1 0 -1.8 0M489 408.6a0.9 0.9 0 1 0 1.8 0a0.9 0.9 0 1 0 -1.8 0M489.8 410.3a0.9 0.9 0 1 0 1.8 0a0.9 0.9 0 1 0 -1.8 0M490.4 397.5a0.9 0.9 0 1 0 1.8 0a0.9 0.9 0 1 0 -1.8 0M491.3 404.6a0.9 0.9 0 1 0 1.8 0a0.9 0.9 0 1 0 -1.8 0M492.7 408.9a0.9 0.9 0 1 0 1.8 0a0.9 0.9 0 1 0 -1.8 0M493.7 410a0.9 0.9 0 1 0 1.8 0a0.9 0.9 0 1 0 -1.8 0M494.5 400.3a0.9 0.9 0 1 0 1.8 0a0.9 0.9 0 1 0 -1.8 0M495.4 396.6a0.9 0.9 0 1 0 1.8 0a0.9 0.9 0 1 0 -1.8 0M495.8 396.5a0.9 0.9 0 1 0 1.8 0a0.9 0.9 0 1 0 -1.8 0M496.6 400.7a0.9 0.9 0 1 0 1.8 0a0.9 0.9 0 1 0 -1.8 0M497.6 410.3a0.9 0.9 0 1 0 1.8 0a0.9 0.9 0 1 0 -1.8 0M498.3 407.5a0.9 0.9 0 1 0 1.8 0a0.9 0.9 0 1 0 -1.8 0M499.5 403.5a0.9 0.9 0 1 0 1.8 0a0.9 0.9 0 1 0 -1.8 0M500.4 401.8a0.9 0.9 0 1 0 1.8 0a0.9 0.9 0 1 0 -1.8 0M501.4 404.9a0.9 0.9 0 1 0 1.8 0a0.9 0.9 0 1 0 -1.8 0M502.3 411.7a0.9 0.9 0 1 0 1.8 0a0.9 0.9 0 1 0 -1.8 0M502.8 406.3a0.9 0.9 0 1 0 1.8 0a0.9 0.9 0 1 0 -1.8 0M504 399.3a0.9 0.9 0 1 0 1.8 0a0.9 0.9 0 1 0 -1.8 0M504.7 403.8a0.9 0.9 0 1 0 1.8 0a0.9 0.9 0 1 0 -1.8 0M505.6 405.2a0.9 0.9 0 1 0 1.8 0a0.9 0.9 0 1 0 -1.8 0M506.5 401.4a0.9 0.9 0 1 0 1.8 0a0.9 0.9 0 1 0 -1.8 0M507.1 409.2a0.9 0.9 0 1 0 1.8 0a0.9 0.9 0 1 0 -1.8 0M507.9 411.7a0.9 0.9 0 1 0 1.8 0a0.9 0.9 0 1 0 -1.8 0M508.5 400.4a0.9 0.9 0 1 0 1.8 0a0.9 0.9 0 1 0 -1.8 0M509.6 402.8a0.9 0.9 0 1 0 1.8 0a0.9 0.9 0 1 0 -1.8 0M510.7 412a0.9 0.9 0 1 0 1.8 0a0.9 0.9 0 1 0 -1.8 0M511.7 410.8a0.9 0.9 0 1 0 1.8 0a0.9 0.9 0 1 0 -1.8 0M512.4 395.8a0.9 0.9 0 1 0 1.8 0a0.9 0.9 0 1 0 -1.8 0M513.5 395.4a0.9 0.9 0 1 0 1.8 0a0.9 0.9 0 1 0 -1.8 0M514.1 408.5a0.9 0.9 0 1 0 1.8 0a0.9 0.9 0 1 0 -1.8 0M515.2 410.8a0.9 0.9 0 1 0 1.8 0a0.9 0.9 0 1 0 -1.8 0M516.4 411.3a0.9 0.9 0 1 0 1.8 0a0.9 0.9 0 1 0 -1.8 0M516.9 392.5a0.9 0.9 0 1 0 1.8 0a0.9 0.9 0 1 0 -1.8 0M517.8 394.8a0.9 0.9 0 1 0 1.8 0a0.9 0.9 0 1 0 -1.8 0M518.7 399.3a0.9 0.9 0 1 0 1.8 0a0.9 0.9 0 1 0 -1.8 0M519.5 384.1a0.9 0.9 0 1 0 1.8 0a0.9 0.9 0 1 0 -1.8 0M520.6 411.3a0.9 0.9 0 1 0 1.8 0a0.9 0.9 0 1 0 -1.8 0M521.6 376.1a0.9 0.9 0 1 0 1.8 0a0.9 0.9 0 1 0 -1.8 0M522.3 384.9a0.9 0.9 0 1 0 1.8 0a0.9 0.9 0 1 0 -1.8 0M523 378.2a0.9 0.9 0 1 0 1.8 0a0.9 0.9 0 1 0 -1.8 0M523.7 381.7a0.9 0.9 0 1 0 1.8 0a0.9 0.9 0 1 0 -1.8 0M524.4 411.7a0.9 0.9 0 1 0 1.8 0a0.9 0.9 0 1 0 -1.8 0M525.4 400a0.9 0.9 0 1 0 1.8 0a0.9 0.9 0 1 0 -1.8 0M526.2 370.8a0.9 0.9 0 1 0 1.8 0a0.9 0.9 0 1 0 -1.8 0M526.8 372.3a0.9 0.9 0 1 0 1.8 0a0.9 0.9 0 1 0 -1.8 0M527.6 390.8a0.9 0.9 0 1 0 1.8 0a0.9 0.9 0 1 0 -1.8 0M528.2 378.9a0.9 0.9 0 1 0 1.8 0a0.9 0.9 0 1 0 -1.8 0M528.6 411.7a0.9 0.9 0 1 0 1.8 0a0.9 0.9 0 1 0 -1.8 0M529 375.6a0.9 0.9 0 1 0 1.8 0a0.9 0.9 0 1 0 -1.8 0M476.4 319.3a0.9 0.9 0 1 0 1.8 0a0.9 0.9 0 1 0 -1.8 0" fill="#151515"/>
<path d="M530.9 353.2V413.6" stroke="#6262ff" stroke-width="1.7" stroke-dasharray="1.3 0.85" fill="none"/>
<path d="M531.1 376.5a0.9 0.9 0 1 0 1.8 0a0.9 0.9 0 1 0 -1.8 0M531.4 380.3a0.9 0.9 0 1 0 1.8 0a0.9 0.9 0 1 0 -1.8 0M532.9 371.5a0.9 0.9 0 1 0 1.8 0a0.9 0.9 0 1 0 -1.8 0M530.3 401.8a0.9 0.9 0 1 0 1.8 0a0.9 0.9 0 1 0 -1.8 0M533.8 411.7a0.9 0.9 0 1 0 1.8 0a0.9 0.9 0 1 0 -1.8 0M532.1 381.3a0.9 0.9 0 1 0 1.8 0a0.9 0.9 0 1 0 -1.8 0" fill="#2a9d2a"/>
<rect x="322.3" y="314.5" width="222.2" height="104" fill="none" stroke="#cccccc" stroke-width="1"/>
<g style="filter:grayscale(1)">
<text x="24" y="111.5" text-anchor="end" font-size="7">0</text>
<text x="24" y="92" text-anchor="end" font-size="7">50</text>
<text x="24" y="72.5" text-anchor="end" font-size="7">100</text>
<text x="24" y="53" text-anchor="end" font-size="7">150</text>
<text x="24" y="33.5" text-anchor="end" font-size="7">200</text>
<text x="24" y="14" text-anchor="end" font-size="7">250</text>
<text x="56.1" y="124.3" text-anchor="end" font-size="7.5" textLength="35.6" lengthAdjust="spacingAndGlyphs" transform="rotate(-30 56.1 124.3)">04-04-2020</text>
<text x="120.83" y="124.3" text-anchor="end" font-size="7.5" textLength="35.6" lengthAdjust="spacingAndGlyphs" transform="rotate(-30 120.83 124.3)">09-05-2020</text>
<text x="185.56" y="124.3" text-anchor="end" font-size="7.5" textLength="35.6" lengthAdjust="spacingAndGlyphs" transform="rotate(-30 185.56 124.3)">13-06-2020</text>
<text x="250.29" y="124.3" text-anchor="end" font-size="7.5" textLength="35.6" lengthAdjust="spacingAndGlyphs" transform="rotate(-30 250.29 124.3)">18-07-2020</text>
<text x="141.1" y="7.9" text-anchor="middle" font-size="7.2" textLength="135" lengthAdjust="spacingAndGlyphs">Florida - Data: deaths, tests and tweets</text>
<text x="141.1" y="149" text-anchor="middle" font-size="7.2" textLength="15.9" lengthAdjust="spacingAndGlyphs">Date</text>
<text x="9.7" y="63.35" text-anchor="middle" font-size="7.2" textLength="41.2" lengthAdjust="spacingAndGlyphs" transform="rotate(-90 9.7 63.35)">Daily deaths</text>
<text x="313.2" y="108.1" text-anchor="end" font-size="7">0</text>
<text x="313.2" y="93.38" text-anchor="end" font-size="7">20</text>
<text x="313.2" y="78.67" text-anchor="end" font-size="7">40</text>
<text x="313.2" y="63.95" text-anchor="end" font-size="7">60</text>
<text x="313.2" y="49.24" text-anchor="end" font-size="7">80</text>
<text x="313.2" y="34.52" text-anchor="end" font-size="7">100</text>
<text x="313.2" y="19.8" text-anchor="end" font-size="7">120</text>
<text x="345.3" y="124.4" text-anchor="end" font-size="7.5" textLength="35.6" lengthAdjust="spacingAndGlyphs" transform="rotate(-30 345.3 124.4)">04-04-2020</text>
<text x="410.07" y="124.4" text-anchor="end" font-size="7.5" textLength="35.6" lengthAdjust="spacingAndGlyphs" transform="rotate(-30 410.07 124.4)">09-05-2020</text>
<text x="474.84" y="124.4" text-anchor="end" font-size="7.5" textLength="35.6" lengthAdjust="spacingAndGlyphs" transform="rotate(-30 474.84 124.4)">13-06-2020</text>
<text x="539.61" y="124.4" text-anchor="end" font-size="7.5" textLength="35.6" lengthAdjust="spacingAndGlyphs" transform="rotate(-30 539.61 124.4)">18-07-2020</text>
<text x="430.1" y="7.9" text-anchor="middle" font-size="7.2" textLength="139.1" lengthAdjust="spacingAndGlyphs">Georgia - Data: deaths, tests and tweets</text>
<text x="430.1" y="149.1" text-anchor="middle" font-size="7.2" textLength="15.9" lengthAdjust="spacingAndGlyphs">Date</text>
<text x="298.9" y="63.4" text-anchor="middle" font-size="7.2" textLength="41.2" lengthAdjust="spacingAndGlyphs" transform="rotate(-90 298.9 63.4)">Daily deaths</text>
<text x="25.1" y="265.3" text-anchor="end" font-size="7">0</text>
<text x="25.1" y="253.28" text-anchor="end" font-size="7">50</text>
<text x="25.1" y="241.25" text-anchor="end" font-size="7">100</text>
<text x="25.1" y="229.23" text-anchor="end" font-size="7">150</text>
<text x="25.1" y="217.2" text-anchor="end" font-size="7">200</text>
<text x="25.1" y="205.18" text-anchor="end" font-size="7">250</text>
<text x="25.1" y="193.15" text-anchor="end" font-size="7">300</text>
<text x="25.1" y="181.12" text-anchor="end" font-size="7">350</text>
<text x="25.1" y="169.1" text-anchor="end" font-size="7">400</text>
<text x="38.6" y="276.2" text-anchor="end" font-size="7.5" textLength="35.6" lengthAdjust="spacingAndGlyphs" transform="rotate(-30 38.6 276.2)">25-03-2020</text>
<text x="72.67" y="276.2" text-anchor="end" font-size="7.5" textLength="35.6" lengthAdjust="spacingAndGlyphs" transform="rotate(-30 72.67 276.2)">29-04-2020</text>
<text x="106.74" y="276.2" text-anchor="end" font-size="7.5" textLength="35.6" lengthAdjust="spacingAndGlyphs" transform="rotate(-30 106.74 276.2)">03-06-2020</text>
<text x="140.81" y="276.2" text-anchor="end" font-size="7.5" textLength="35.6" lengthAdjust="spacingAndGlyphs" transform="rotate(-30 140.81 276.2)">08-07-2020</text>
<text x="174.88" y="276.2" text-anchor="end" font-size="7.5" textLength="35.6" lengthAdjust="spacingAndGlyphs" transform="rotate(-30 174.88 276.2)">12-08-2020</text>
<text x="208.95" y="276.2" text-anchor="end" font-size="7.5" textLength="35.6" lengthAdjust="spacingAndGlyphs" transform="rotate(-30 208.95 276.2)">16-09-2020</text>
<text x="243.02" y="276.2" text-anchor="end" font-size="7.5" textLength="35.6" lengthAdjust="spacingAndGlyphs" transform="rotate(-30 243.02 276.2)">21-10-2020</text>
<text x="141.55" y="161.1" text-anchor="middle" font-size="7.2" textLength="135" lengthAdjust="spacingAndGlyphs">Florida - Data: deaths, tests and tweets</text>
<text x="141.55" y="300.9" text-anchor="middle" font-size="7.2" textLength="15.9" lengthAdjust="spacingAndGlyphs">Date</text>
<text x="10.8" y="215.9" text-anchor="middle" font-size="7.2" textLength="41.2" lengthAdjust="spacingAndGlyphs" transform="rotate(-90 10.8 215.9)">Daily deaths</text>
<text x="314.1" y="262.9" text-anchor="end" font-size="7">0</text>
<text x="314.1" y="249.76" text-anchor="end" font-size="7">25</text>
<text x="314.1" y="236.61" text-anchor="end" font-size="7">50</text>
<text x="314.1" y="223.47" text-anchor="end" font-size="7">75</text>
<text x="314.1" y="210.33" text-anchor="end" font-size="7">100</text>
<text x="314.1" y="197.19" text-anchor="end" font-size="7">125</text>
<text x="314.1" y="184.04" text-anchor="end" font-size="7">150</text>
<text x="314.1" y="170.9" text-anchor="end" font-size="7">175</text>
<text x="327.2" y="276.4" text-anchor="end" font-size="7.5" textLength="35.6" lengthAdjust="spacingAndGlyphs" transform="rotate(-30 327.2 276.4)">25-03-2020</text>
<text x="361.35" y="276.4" text-anchor="end" font-size="7.5" textLength="35.6" lengthAdjust="spacingAndGlyphs" transform="rotate(-30 361.35 276.4)">29-04-2020</text>
<text x="395.5" y="276.4" text-anchor="end" font-size="7.5" textLength="35.6" lengthAdjust="spacingAndGlyphs" transform="rotate(-30 395.5 276.4)">03-06-2020</text>
<text x="429.65" y="276.4" text-anchor="end" font-size="7.5" textLength="35.6" lengthAdjust="spacingAndGlyphs" transform="rotate(-30 429.65 276.4)">08-07-2020</text>
<text x="463.8" y="276.4" text-anchor="end" font-size="7.5" textLength="35.6" lengthAdjust="spacingAndGlyphs" transform="rotate(-30 463.8 276.4)">12-08-2020</text>
<text x="497.95" y="276.4" text-anchor="end" font-size="7.5" textLength="35.6" lengthAdjust="spacingAndGlyphs" transform="rotate(-30 497.95 276.4)">16-09-2020</text>
<text x="532.1" y="276.4" text-anchor="end" font-size="7.5" textLength="35.6" lengthAdjust="spacingAndGlyphs" transform="rotate(-30 532.1 276.4)">21-10-2020</text>
<text x="430.55" y="161" text-anchor="middle" font-size="7.2" textLength="139.1" lengthAdjust="spacingAndGlyphs">Georgia - Data: deaths, tests and tweets</text>
<text x="430.55" y="301.1" text-anchor="middle" font-size="7.2" textLength="15.9" lengthAdjust="spacingAndGlyphs">Date</text>
<text x="299.8" y="215.95" text-anchor="middle" font-size="7.2" textLength="41.2" lengthAdjust="spacingAndGlyphs" transform="rotate(-90 299.8 215.95)">Daily deaths</text>
<text x="31.1" y="414.8" text-anchor="end" font-size="7">0</text>
<text x="31.1" y="391.85" text-anchor="end" font-size="7">100</text>
<text x="31.1" y="368.9" text-anchor="end" font-size="7">200</text>
<text x="31.1" y="345.95" text-anchor="end" font-size="7">300</text>
<text x="31.1" y="323" text-anchor="end" font-size="7">400</text>
<text x="38.1" y="425.7" text-anchor="end" font-size="7.5" textLength="35.6" lengthAdjust="spacingAndGlyphs" transform="rotate(-30 38.1 425.7)">16-03-2020</text>
<text x="60.66" y="425.7" text-anchor="end" font-size="7.5" textLength="35.6" lengthAdjust="spacingAndGlyphs" transform="rotate(-30 60.66 425.7)">20-04-2020</text>
<text x="83.22" y="425.7" text-anchor="end" font-size="7.5" textLength="35.6" lengthAdjust="spacingAndGlyphs" transform="rotate(-30 83.22 425.7)">25-05-2020</text>
<text x="105.78" y="425.7" text-anchor="end" font-size="7.5" textLength="35.6" lengthAdjust="spacingAndGlyphs" transform="rotate(-30 105.78 425.7)">29-06-2020</text>
<text x="128.34" y="425.7" text-anchor="end" font-size="7.5" textLength="35.6" lengthAdjust="spacingAndGlyphs" transform="rotate(-30 128.34 425.7)">03-08-2020</text>
<text x="150.9" y="425.7" text-anchor="end" font-size="7.5" textLength="35.6" lengthAdjust="spacingAndGlyphs" transform="rotate(-30 150.9 425.7)">07-09-2020</text>
<text x="173.46" y="425.7" text-anchor="end" font-size="7.5" textLength="35.6" lengthAdjust="spacingAndGlyphs" transform="rotate(-30 173.46 425.7)">12-10-2020</text>
<text x="196.02" y="425.7" text-anchor="end" font-size="7.5" textLength="35.6" lengthAdjust="spacingAndGlyphs" transform="rotate(-30 196.02 425.7)">16-11-2020</text>
<text x="218.58" y="425.7" text-anchor="end" font-size="7.5" textLength="35.6" lengthAdjust="spacingAndGlyphs" transform="rotate(-30 218.58 425.7)">21-12-2020</text>
<text x="241.14" y="425.7" text-anchor="end" font-size="7.5" textLength="35.6" lengthAdjust="spacingAndGlyphs" transform="rotate(-30 241.14 425.7)">25-01-2021</text>
<text x="144.7" y="312.9" text-anchor="middle" font-size="7.2" textLength="179" lengthAdjust="spacingAndGlyphs">Florida deaths forecast: deaths, tests and tweets data</text>
<text x="144.7" y="450.4" text-anchor="middle" font-size="7.2" textLength="15.9" lengthAdjust="spacingAndGlyphs">Date</text>
<text x="16.8" y="366.55" text-anchor="middle" font-size="7.2" textLength="41.2" lengthAdjust="spacingAndGlyphs" transform="rotate(-90 16.8 366.55)">Daily deaths</text>
<text x="319.8" y="414.6" text-anchor="end" font-size="7">0</text>
<text x="319.8" y="395.3" text-anchor="end" font-size="7">100</text>
<text x="319.8" y="376" text-anchor="end" font-size="7">200</text>
<text x="319.8" y="356.7" text-anchor="end" font-size="7">300</text>
<text x="319.8" y="337.4" text-anchor="end" font-size="7">400</text>
<text x="319.8" y="318.1" text-anchor="end" font-size="7">500</text>
<text x="327.2" y="425.6" text-anchor="end" font-size="7.5" textLength="35.6" lengthAdjust="spacingAndGlyphs" transform="rotate(-30 327.2 425.6)">16-03-2020</text>
<text x="349.79" y="425.6" text-anchor="end" font-size="7.5" textLength="35.6" lengthAdjust="spacingAndGlyphs" transform="rotate(-30 349.79 425.6)">20-04-2020</text>
<text x="372.38" y="425.6" text-anchor="end" font-size="7.5" textLength="35.6" lengthAdjust="spacingAndGlyphs" transform="rotate(-30 372.38 425.6)">25-05-2020</text>
<text x="394.97" y="425.6" text-anchor="end" font-size="7.5" textLength="35.6" lengthAdjust="spacingAndGlyphs" transform="rotate(-30 394.97 425.6)">29-06-2020</text>
<text x="417.56" y="425.6" text-anchor="end" font-size="7.5" textLength="35.6" lengthAdjust="spacingAndGlyphs" transform="rotate(-30 417.56 425.6)">03-08-2020</text>
<text x="440.15" y="425.6" text-anchor="end" font-size="7.5" textLength="35.6" lengthAdjust="spacingAndGlyphs" transform="rotate(-30 440.15 425.6)">07-09-2020</text>
<text x="462.74" y="425.6" text-anchor="end" font-size="7.5" textLength="35.6" lengthAdjust="spacingAndGlyphs" transform="rotate(-30 462.74 425.6)">12-10-2020</text>
<text x="485.33" y="425.6" text-anchor="end" font-size="7.5" textLength="35.6" lengthAdjust="spacingAndGlyphs" transform="rotate(-30 485.33 425.6)">16-11-2020</text>
<text x="507.92" y="425.6" text-anchor="end" font-size="7.5" textLength="35.6" lengthAdjust="spacingAndGlyphs" transform="rotate(-30 507.92 425.6)">21-12-2020</text>
<text x="530.51" y="425.6" text-anchor="end" font-size="7.5" textLength="35.6" lengthAdjust="spacingAndGlyphs" transform="rotate(-30 530.51 425.6)">25-01-2021</text>
<text x="433.4" y="312.9" text-anchor="middle" font-size="7.2" textLength="182.9" lengthAdjust="spacingAndGlyphs">Georgia deaths forecast: deaths, tests and tweets data</text>
<text x="433.4" y="450.3" text-anchor="middle" font-size="7.2" textLength="15.9" lengthAdjust="spacingAndGlyphs">Date</text>
<text x="305.5" y="366.5" text-anchor="middle" font-size="7.2" textLength="41.2" lengthAdjust="spacingAndGlyphs" transform="rotate(-90 305.5 366.5)">Daily deaths</text>
</g>
</svg>
</body></html>
